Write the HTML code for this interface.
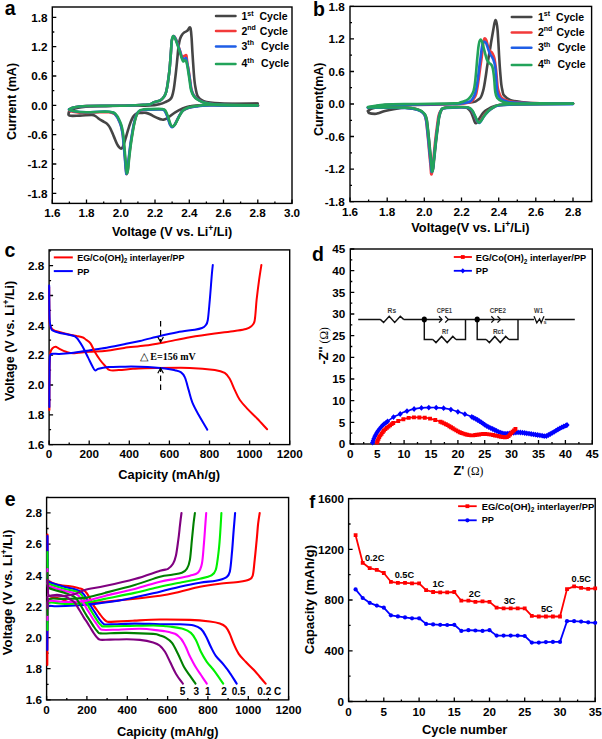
<!DOCTYPE html>
<html><head><meta charset="utf-8"><style>
html,body{margin:0;padding:0;background:#fff;}
svg{display:block;}
</style></head><body>
<svg width="602" height="739" viewBox="0 0 602 739" font-family="Liberation Sans, sans-serif" font-weight="bold" fill="#000">
<rect width="602" height="739" fill="#fff"/>
<rect x="52.3" y="7.0" width="239.7" height="196.4" fill="none" stroke="#000" stroke-width="1.4"/>
<path d="M52.3,203.4 v-4 M86.5,203.4 v-4 M120.8,203.4 v-4 M155.0,203.4 v-4 M189.3,203.4 v-4 M223.5,203.4 v-4 M257.8,203.4 v-4 M292.0,203.4 v-4 M69.4,203.4 v-2 M103.7,203.4 v-2 M137.9,203.4 v-2 M172.1,203.4 v-2 M206.4,203.4 v-2 M240.6,203.4 v-2 M274.9,203.4 v-2" stroke="#000" stroke-width="1.3" fill="none"/>
<path d="M52.3,193.3 h4 M52.3,164.0 h4 M52.3,134.6 h4 M52.3,105.3 h4 M52.3,76.0 h4 M52.3,46.6 h4 M52.3,17.3 h4 M52.3,178.6 h2 M52.3,149.3 h2 M52.3,120.0 h2 M52.3,90.6 h2 M52.3,61.3 h2 M52.3,32.0 h2" stroke="#000" stroke-width="1.3" fill="none"/>
<text x="52.3" y="217.3" font-size="11.7" text-anchor="middle">1.6</text>
<text x="86.5" y="217.3" font-size="11.7" text-anchor="middle">1.8</text>
<text x="120.8" y="217.3" font-size="11.7" text-anchor="middle">2.0</text>
<text x="155.0" y="217.3" font-size="11.7" text-anchor="middle">2.2</text>
<text x="189.3" y="217.3" font-size="11.7" text-anchor="middle">2.4</text>
<text x="223.5" y="217.3" font-size="11.7" text-anchor="middle">2.6</text>
<text x="257.7" y="217.3" font-size="11.7" text-anchor="middle">2.8</text>
<text x="292.0" y="217.3" font-size="11.7" text-anchor="middle">3.0</text>
<text x="47.6" y="197.5" font-size="11.7" text-anchor="end">-1.8</text>
<text x="47.6" y="168.2" font-size="11.7" text-anchor="end">-1.2</text>
<text x="47.6" y="138.8" font-size="11.7" text-anchor="end">-0.6</text>
<text x="47.6" y="109.5" font-size="11.7" text-anchor="end">0.0</text>
<text x="47.6" y="80.2" font-size="11.7" text-anchor="end">0.6</text>
<text x="47.6" y="50.8" font-size="11.7" text-anchor="end">1.2</text>
<text x="47.6" y="21.5" font-size="11.7" text-anchor="end">1.8</text>
<text x="10.3" y="15.2" font-size="19.5" text-anchor="middle">a</text>
<text x="172.1" y="236.3" font-size="12.6" text-anchor="middle">Voltage (V vs. Li<tspan font-size="8.5" dy="-5.3">+</tspan><tspan dy="5.3">/Li)</tspan></text>
<text x="15.8" y="101.5" font-size="12.5" text-anchor="middle" transform="rotate(-90 15.8 101.5)">Current (mA)</text>
<g>
<path d="M69.0,112.0 C70.0,111.4 71.5,109.4 75.0,108.5 C78.5,107.6 80.8,107.0 90.0,106.5 C99.2,106.0 120.0,105.8 130.0,105.6 C140.0,105.4 145.0,105.8 150.0,105.5 C155.0,105.2 157.3,104.6 160.0,104.0 C162.7,103.4 164.3,102.5 166.0,101.7 C167.7,101.0 169.0,100.4 170.0,99.5 C171.0,98.6 171.4,98.2 172.0,96.5 C172.6,94.8 173.2,92.4 173.8,89.0 C174.4,85.6 174.9,80.8 175.5,76.0 C176.1,71.2 176.7,65.0 177.2,60.0 C177.7,55.0 178.1,49.5 178.6,46.0 C179.1,42.5 179.4,40.9 180.0,39.0 C180.6,37.1 181.4,35.6 182.2,34.5 C182.9,33.4 183.7,32.9 184.5,32.3 C185.3,31.7 186.2,31.5 186.9,31.0 C187.6,30.5 188.0,29.8 188.4,29.2 C188.8,28.6 189.1,27.7 189.5,27.6 C189.9,27.5 190.2,26.8 190.6,28.5 C190.9,30.2 191.3,33.6 191.6,38.0 C191.9,42.4 192.2,49.2 192.6,55.0 C193.0,60.8 193.4,67.8 193.8,73.0 C194.2,78.2 194.5,82.1 195.2,86.0 C195.9,89.9 196.4,93.8 197.8,96.3 C199.2,98.8 200.1,100.1 203.8,101.3 C207.5,102.5 210.8,102.9 219.8,103.3 C228.8,103.7 251.3,103.8 257.6,103.9" fill="none" stroke="#454545" stroke-width="2.6" stroke-linejoin="round" stroke-linecap="round"/>
<path d="M69.0,112.0 C69.0,112.6 67.5,115.0 69.3,115.6 C71.1,116.2 76.1,115.7 79.9,115.6 C83.7,115.5 89.2,114.8 91.9,114.9 C94.6,115.1 94.7,115.7 96.0,116.5 C97.3,117.3 98.6,118.6 99.9,119.5 C101.2,120.4 102.8,121.1 104.0,121.8 C105.2,122.5 105.9,122.6 106.9,123.7 C108.0,124.8 109.2,126.2 110.3,128.3 C111.4,130.4 112.6,133.7 113.8,136.4 C115.0,139.1 116.2,142.5 117.2,144.4 C118.2,146.3 118.8,146.9 119.5,147.6 C120.2,148.3 120.6,148.6 121.1,148.6 C121.6,148.6 122.0,148.3 122.5,147.5 C123.0,146.7 123.4,145.2 124.0,143.5 C124.6,141.8 125.3,139.3 126.0,137.0 C126.7,134.7 127.4,131.9 128.2,129.5 C128.9,127.1 129.7,124.6 130.5,122.5 C131.3,120.4 132.2,118.4 133.0,117.0 C133.8,115.6 134.6,115.0 135.5,114.3 C136.4,113.6 137.6,113.3 138.5,113.1 C139.4,112.9 139.8,112.9 141.0,112.9 C142.2,112.9 144.5,112.7 146.0,112.9 C147.5,113.1 148.7,113.6 150.0,114.2 C151.3,114.8 152.6,115.6 153.9,116.3 C155.2,117.0 156.7,117.7 158.0,118.2 C159.3,118.8 160.9,119.4 161.9,119.6 C162.9,119.8 163.3,119.7 164.0,119.6 C164.7,119.5 164.9,119.5 165.9,118.9 C166.9,118.4 168.4,117.4 169.9,116.3 C171.4,115.2 173.0,113.6 175.2,112.3 C177.4,111.0 180.8,109.3 183.2,108.3 C185.6,107.3 186.5,106.8 189.8,106.3 C193.1,105.8 191.8,105.5 203.1,105.0 C214.4,104.5 248.5,103.8 257.6,103.5" fill="none" stroke="#454545" stroke-width="2.6" stroke-linejoin="round" stroke-linecap="round"/>
<path d="M69.4,109.4 C70.1,109.1 70.4,108.0 73.3,107.4 C76.2,106.8 79.9,106.3 86.6,106.0 C93.2,105.7 106.0,105.9 113.2,105.8 C120.4,105.7 125.0,105.7 130.0,105.5 C135.0,105.3 140.0,105.0 143.3,104.8 C146.6,104.6 148.2,104.6 150.0,104.2 C151.8,103.8 152.2,102.9 153.9,102.3 C155.6,101.7 158.5,101.2 160.0,100.5 C161.5,99.8 162.1,99.1 163.0,98.0 C163.9,96.9 164.8,95.7 165.5,94.0 C166.2,92.3 166.5,90.7 167.0,88.0 C167.5,85.3 168.1,81.3 168.5,78.0 C168.9,74.7 169.4,71.3 169.7,68.0 C170.0,64.7 170.2,61.3 170.5,58.0 C170.8,54.7 171.0,50.9 171.2,48.0 C171.4,45.1 171.4,42.4 171.8,40.5 C172.2,38.6 172.9,37.1 173.4,36.5 C173.9,35.9 174.2,36.2 174.6,36.7 C175.0,37.2 175.5,38.1 176.1,39.5 C176.7,40.9 177.4,43.1 178.1,45.0 C178.8,46.9 179.4,48.9 180.1,51.0 C180.8,53.1 181.5,56.6 182.1,57.5 C182.7,58.4 183.2,56.6 183.7,56.3 C184.2,56.0 184.6,55.7 185.1,55.6 C185.6,55.5 186.0,54.2 186.4,55.5 C186.8,56.8 187.0,61.1 187.4,63.5 C187.8,65.9 188.2,67.2 188.6,70.0 C189.0,72.8 189.6,76.7 190.1,80.0 C190.6,83.3 190.9,87.2 191.6,89.8 C192.3,92.4 193.1,94.2 194.1,95.8 C195.1,97.4 196.0,98.2 197.6,99.3 C199.2,100.4 201.4,101.5 203.6,102.3 C205.8,103.0 207.8,103.4 210.6,103.8 C213.4,104.2 212.7,104.6 220.6,104.9 C228.5,105.2 251.9,105.4 258.2,105.5" fill="none" stroke="#f23a3a" stroke-width="2.6" stroke-linejoin="round" stroke-linecap="round"/>
<path d="M69.1,110.0 C69.8,110.3 70.1,111.1 73.0,111.6 C75.9,112.1 81.9,112.8 86.3,112.9 C90.7,113.0 95.8,112.4 99.6,112.3 C103.4,112.2 106.8,112.2 108.9,112.3 C111.0,112.4 111.2,112.6 112.2,112.9 C113.2,113.2 113.9,113.5 114.6,114.0 C115.3,114.5 115.9,115.3 116.5,116.1 C117.1,116.9 117.4,117.0 118.1,118.6 C118.9,120.2 120.2,123.0 121.0,125.5 C121.8,128.0 122.2,130.4 122.7,133.5 C123.2,136.6 123.4,139.9 123.8,143.9 C124.2,147.9 124.7,153.5 125.0,157.7 C125.3,161.9 125.7,166.5 125.9,169.2 C126.2,171.9 126.3,173.3 126.5,173.9 C126.7,174.5 127.0,173.4 127.2,172.6 C127.4,171.8 127.6,171.7 127.9,169.2 C128.2,166.7 128.5,161.9 129.0,157.7 C129.5,153.5 130.1,148.1 130.7,143.9 C131.3,139.7 131.9,135.9 132.5,132.4 C133.1,128.9 133.5,126.1 134.2,123.2 C134.9,120.3 135.6,117.1 136.5,115.1 C137.4,113.1 138.2,111.9 139.4,111.1 C140.5,110.2 141.7,110.3 143.4,110.0 C145.1,109.7 146.7,109.5 149.7,109.4 C152.7,109.3 159.1,109.1 161.6,109.3 C164.1,109.5 163.9,109.4 164.9,110.6 C165.9,111.8 166.7,114.3 167.6,116.6 C168.5,118.9 169.4,122.8 170.2,124.5 C171.0,126.2 171.4,126.9 172.2,126.9 C173.0,126.9 173.8,126.2 174.9,124.5 C176.0,122.8 177.6,118.9 178.9,116.6 C180.2,114.3 181.3,112.0 182.9,110.6 C184.4,109.1 186.0,108.6 188.2,107.9 C190.4,107.2 192.6,106.8 196.1,106.3 C199.6,105.8 199.2,105.3 209.4,105.2 C219.6,105.1 249.3,105.5 257.3,105.6" fill="none" stroke="#f23a3a" stroke-width="2.6" stroke-linejoin="round" stroke-linecap="round"/>
<path d="M69.4,109.4 C70.1,109.1 70.4,108.0 73.3,107.4 C76.2,106.8 79.9,106.3 86.6,106.0 C93.2,105.7 106.0,105.9 113.2,105.8 C120.4,105.7 125.0,105.7 130.0,105.5 C135.0,105.3 140.0,105.0 143.3,104.8 C146.6,104.6 148.2,104.6 150.0,104.2 C151.8,103.8 152.2,102.9 153.9,102.3 C155.6,101.7 158.5,101.2 160.0,100.5 C161.5,99.8 162.1,99.1 163.0,98.0 C163.9,96.9 164.8,95.7 165.5,94.0 C166.2,92.3 166.5,90.7 167.0,88.0 C167.5,85.3 168.1,81.3 168.5,78.0 C168.9,74.7 169.4,71.3 169.7,68.0 C170.0,64.7 170.2,61.3 170.5,58.0 C170.8,54.7 171.0,50.9 171.2,48.0 C171.4,45.1 171.5,42.4 171.8,40.5 C172.1,38.6 172.8,37.1 173.2,36.5 C173.6,35.9 174.0,36.2 174.4,36.7 C174.8,37.2 175.3,38.1 175.9,39.5 C176.5,40.9 177.2,43.1 177.9,45.0 C178.6,46.9 179.2,48.9 179.9,51.0 C180.6,53.1 181.3,56.1 181.9,57.5 C182.5,58.9 183.0,59.1 183.5,59.3 C184.0,59.5 184.4,58.7 184.9,58.6 C185.4,58.5 185.8,57.7 186.2,58.5 C186.6,59.3 186.8,61.6 187.2,63.5 C187.6,65.4 188.0,67.2 188.4,70.0 C188.8,72.8 189.4,76.7 189.9,80.0 C190.4,83.3 190.7,87.2 191.4,89.8 C192.1,92.4 192.9,94.2 193.9,95.8 C194.9,97.4 195.8,98.2 197.4,99.3 C199.0,100.4 201.2,101.5 203.4,102.3 C205.6,103.0 207.6,103.4 210.4,103.8 C213.2,104.2 212.5,104.6 220.4,104.9 C228.3,105.2 251.7,105.4 258.0,105.5" fill="none" stroke="#1f5ee6" stroke-width="2.6" stroke-linejoin="round" stroke-linecap="round"/>
<path d="M68.9,109.4 C69.6,109.7 69.9,110.5 72.8,111.0 C75.7,111.5 81.7,112.2 86.1,112.3 C90.5,112.4 95.6,111.8 99.4,111.7 C103.2,111.6 106.6,111.6 108.7,111.7 C110.8,111.8 111.0,112.0 112.0,112.3 C113.0,112.6 113.7,112.8 114.4,113.4 C115.1,114.0 115.7,115.2 116.3,116.0 C116.9,116.8 117.2,116.9 117.9,118.5 C118.7,120.1 120.0,122.9 120.8,125.4 C121.6,127.9 122.0,130.3 122.5,133.4 C123.0,136.5 123.2,139.8 123.6,143.8 C124.0,147.8 124.4,153.4 124.8,157.6 C125.2,161.8 125.5,166.4 125.7,169.1 C126.0,171.8 126.1,173.2 126.3,173.8 C126.5,174.4 126.8,173.3 127.0,172.5 C127.2,171.7 127.4,171.6 127.7,169.1 C128.0,166.6 128.3,161.8 128.8,157.6 C129.3,153.4 129.9,148.0 130.5,143.8 C131.1,139.6 131.7,135.8 132.3,132.3 C132.9,128.9 133.3,126.0 134.0,123.1 C134.7,120.2 135.4,117.0 136.3,115.0 C137.2,113.0 138.0,111.8 139.2,111.0 C140.3,110.2 141.5,110.1 143.2,109.9 C144.9,109.7 146.5,109.7 149.5,109.6 C152.5,109.5 158.9,109.3 161.4,109.5 C163.9,109.7 163.7,109.6 164.7,110.8 C165.7,112.0 166.5,114.5 167.4,116.8 C168.3,119.1 169.2,123.0 170.0,124.7 C170.8,126.4 171.2,127.1 172.0,127.1 C172.8,127.1 173.6,126.4 174.7,124.7 C175.8,123.0 177.4,119.1 178.7,116.8 C180.0,114.5 181.1,112.2 182.7,110.8 C184.2,109.3 185.8,108.8 188.0,108.1 C190.2,107.4 192.4,107.0 195.9,106.5 C199.4,106.0 199.0,105.5 209.2,105.4 C219.4,105.3 249.1,105.7 257.1,105.8" fill="none" stroke="#1f5ee6" stroke-width="2.6" stroke-linejoin="round" stroke-linecap="round"/>
<path d="M69.4,109.4 C70.1,109.1 70.4,108.0 73.3,107.4 C76.2,106.8 79.9,106.3 86.6,106.0 C93.2,105.7 106.0,105.9 113.2,105.8 C120.4,105.7 125.0,105.7 130.0,105.5 C135.0,105.3 140.0,105.0 143.3,104.8 C146.6,104.6 148.2,104.6 150.0,104.2 C151.8,103.8 152.2,102.9 153.9,102.3 C155.6,101.7 158.5,101.2 160.0,100.5 C161.5,99.8 162.1,99.1 163.0,98.0 C163.9,96.9 164.8,95.7 165.5,94.0 C166.2,92.3 166.5,90.7 167.0,88.0 C167.5,85.3 168.1,81.3 168.5,78.0 C168.9,74.7 169.4,71.3 169.7,68.0 C170.0,64.7 170.2,61.3 170.5,58.0 C170.8,54.7 171.0,50.9 171.2,48.0 C171.4,45.1 171.5,42.4 171.8,40.5 C172.1,38.6 172.4,37.1 172.8,36.5 C173.2,35.9 173.6,36.2 174.0,36.7 C174.4,37.2 174.9,38.1 175.5,39.5 C176.1,40.9 176.8,43.1 177.5,45.0 C178.2,46.9 178.8,48.9 179.5,51.0 C180.2,53.1 180.9,55.8 181.5,57.5 C182.1,59.2 182.6,60.8 183.1,61.3 C183.6,61.8 184.1,60.7 184.5,60.6 C184.9,60.5 185.4,60.0 185.8,60.5 C186.2,61.0 186.4,61.9 186.8,63.5 C187.2,65.1 187.6,67.2 188.0,70.0 C188.4,72.8 189.0,76.7 189.5,80.0 C190.0,83.3 190.3,87.2 191.0,89.8 C191.7,92.4 192.5,94.2 193.5,95.8 C194.5,97.4 195.4,98.2 197.0,99.3 C198.6,100.4 200.8,101.5 203.0,102.3 C205.2,103.0 207.2,103.4 210.0,103.8 C212.8,104.2 212.1,104.6 220.0,104.9 C227.9,105.2 251.3,105.4 257.6,105.5" fill="none" stroke="#22a35a" stroke-width="2.6" stroke-linejoin="round" stroke-linecap="round"/>
<path d="M69.4,109.4 C70.1,109.7 70.4,110.5 73.3,111.0 C76.2,111.5 82.2,112.2 86.6,112.3 C91.0,112.4 96.1,111.8 99.9,111.7 C103.7,111.6 107.1,111.6 109.2,111.7 C111.3,111.8 111.5,112.0 112.5,112.3 C113.5,112.6 114.2,112.9 114.9,113.4 C115.6,113.9 116.2,114.7 116.8,115.5 C117.4,116.3 117.7,116.4 118.4,118.0 C119.2,119.6 120.5,122.4 121.3,124.9 C122.1,127.4 122.5,129.8 123.0,132.9 C123.5,136.0 123.7,139.3 124.1,143.3 C124.5,147.3 124.9,152.9 125.3,157.1 C125.7,161.3 126.0,165.9 126.2,168.6 C126.5,171.3 126.6,172.7 126.8,173.3 C127.0,173.9 127.3,172.8 127.5,172.0 C127.7,171.2 127.9,171.1 128.2,168.6 C128.5,166.1 128.8,161.3 129.3,157.1 C129.8,152.9 130.4,147.5 131.0,143.3 C131.6,139.1 132.2,135.2 132.8,131.8 C133.4,128.4 133.8,125.5 134.5,122.6 C135.2,119.7 135.9,116.5 136.8,114.5 C137.7,112.5 138.5,111.3 139.7,110.5 C140.8,109.7 142.0,109.6 143.7,109.4 C145.4,109.2 147.0,109.2 150.0,109.1 C153.0,109.0 159.4,108.8 161.9,109.0 C164.4,109.2 164.2,109.1 165.2,110.3 C166.2,111.5 167.0,114.0 167.9,116.3 C168.8,118.6 169.7,122.5 170.5,124.2 C171.3,125.9 171.7,126.6 172.5,126.6 C173.3,126.6 174.1,125.9 175.2,124.2 C176.3,122.5 177.9,118.6 179.2,116.3 C180.5,114.0 181.6,111.8 183.2,110.3 C184.8,108.8 186.3,108.3 188.5,107.6 C190.7,106.9 192.9,106.5 196.4,106.0 C199.9,105.5 199.5,105.0 209.7,104.9 C219.9,104.8 249.6,105.2 257.6,105.3" fill="none" stroke="#22a35a" stroke-width="2.6" stroke-linejoin="round" stroke-linecap="round"/>
</g>
<line x1="216" y1="16.1" x2="235.5" y2="16.1" stroke="#454545" stroke-width="2.5" stroke-linecap="round"/>
<text x="241.5" y="20" font-size="10.5">1<tspan font-size="7" dy="-4.5">st</tspan></text>
<text x="259.5" y="20" font-size="10.5">Cycle</text>
<line x1="216" y1="31.1" x2="235.5" y2="31.1" stroke="#f23a3a" stroke-width="2.5" stroke-linecap="round"/>
<text x="241.5" y="34.9" font-size="10.5">2<tspan font-size="7" dy="-4.5">nd</tspan></text>
<text x="259.8" y="34.9" font-size="10.5">Cycle</text>
<line x1="216" y1="46.5" x2="235.5" y2="46.5" stroke="#1f5ee6" stroke-width="2.5" stroke-linecap="round"/>
<text x="241.5" y="49.8" font-size="10.5">3<tspan font-size="7" dy="-4.5">th</tspan></text>
<text x="261.1" y="49.8" font-size="10.5">Cycle</text>
<line x1="216" y1="64" x2="235.5" y2="64" stroke="#22a35a" stroke-width="2.5" stroke-linecap="round"/>
<text x="241.5" y="67.3" font-size="10.5">4<tspan font-size="7" dy="-4.5">th</tspan></text>
<text x="261.1" y="67.3" font-size="10.5">Cycle</text>
<rect x="350.0" y="6.4" width="241.60000000000002" height="195.2" fill="none" stroke="#000" stroke-width="1.4"/>
<path d="M350.0,201.6 v-4 M387.2,201.6 v-4 M424.3,201.6 v-4 M461.5,201.6 v-4 M498.7,201.6 v-4 M535.8,201.6 v-4 M573.0,201.6 v-4 M368.6,201.6 v-2 M405.8,201.6 v-2 M442.9,201.6 v-2 M480.1,201.6 v-2 M517.3,201.6 v-2 M554.4,201.6 v-2 M591.6,201.6 v-2" stroke="#000" stroke-width="1.3" fill="none"/>
<path d="M350.0,201.6 h4 M350.0,169.1 h4 M350.0,136.5 h4 M350.0,104.0 h4 M350.0,71.5 h4 M350.0,38.9 h4 M350.0,6.4 h4 M350.0,185.3 h2 M350.0,152.8 h2 M350.0,120.3 h2 M350.0,87.7 h2 M350.0,55.2 h2 M350.0,22.7 h2" stroke="#000" stroke-width="1.3" fill="none"/>
<text x="350.0" y="215.5" font-size="11.7" text-anchor="middle">1.6</text>
<text x="387.2" y="215.5" font-size="11.7" text-anchor="middle">1.8</text>
<text x="424.4" y="215.5" font-size="11.7" text-anchor="middle">2.0</text>
<text x="461.6" y="215.5" font-size="11.7" text-anchor="middle">2.2</text>
<text x="498.8" y="215.5" font-size="11.7" text-anchor="middle">2.4</text>
<text x="536.0" y="215.5" font-size="11.7" text-anchor="middle">2.6</text>
<text x="573.2" y="215.5" font-size="11.7" text-anchor="middle">2.8</text>
<text x="344.8" y="205.8" font-size="11.7" text-anchor="end">-1.8</text>
<text x="344.8" y="173.3" font-size="11.7" text-anchor="end">-1.2</text>
<text x="344.8" y="140.7" font-size="11.7" text-anchor="end">-0.6</text>
<text x="344.8" y="108.2" font-size="11.7" text-anchor="end">0.0</text>
<text x="344.8" y="75.7" font-size="11.7" text-anchor="end">0.6</text>
<text x="344.8" y="43.1" font-size="11.7" text-anchor="end">1.2</text>
<text x="344.8" y="10.6" font-size="11.7" text-anchor="end">1.8</text>
<text x="319" y="15.5" font-size="19.5" text-anchor="middle">b</text>
<text x="470.4" y="232.4" font-size="12.75" text-anchor="middle">Voltage(V vs. Li<tspan font-size="8.6" dy="-5.4">+</tspan><tspan dy="5.4">/Li)</tspan></text>
<text x="323" y="99.3" font-size="12.5" text-anchor="middle" transform="rotate(-90 323 99.3)">Current(mA)</text>
<g>
<path d="M368.0,111.0 C368.7,110.6 369.2,109.3 372.0,108.5 C374.8,107.7 377.8,106.6 385.0,106.0 C392.2,105.4 403.3,105.3 415.0,105.0 C426.7,104.7 447.5,104.3 455.0,104.0 C462.5,103.7 456.9,103.7 460.0,103.4 C463.1,103.1 470.7,102.5 473.5,102.0 C476.3,101.5 475.9,101.2 477.0,100.5 C478.1,99.8 479.5,99.0 480.3,98.0 C481.1,97.0 481.4,96.1 482.0,94.5 C482.6,92.9 483.1,91.2 483.7,88.5 C484.3,85.8 484.9,81.6 485.5,78.0 C486.1,74.4 486.6,70.1 487.1,66.8 C487.6,63.5 488.1,60.7 488.5,58.0 C488.9,55.3 489.3,53.6 489.8,50.6 C490.3,47.6 490.9,43.4 491.5,40.0 C492.1,36.6 492.7,33.0 493.2,30.3 C493.7,27.6 494.0,25.2 494.4,23.5 C494.8,21.8 495.1,20.2 495.5,20.1 C495.9,20.0 496.2,21.3 496.6,23.0 C497.0,24.7 497.3,27.0 497.6,30.3 C497.9,33.6 498.1,38.5 498.4,43.0 C498.7,47.5 498.9,52.6 499.2,57.4 C499.5,62.2 499.8,67.5 500.2,72.0 C500.6,76.5 500.9,81.2 501.3,84.4 C501.7,87.6 502.1,89.2 502.5,91.0 C502.9,92.8 502.7,93.8 504.0,95.3 C505.3,96.8 507.3,98.9 510.1,100.0 C512.9,101.1 515.9,101.4 520.9,102.0 C525.9,102.6 531.3,103.2 540.0,103.4 C548.7,103.6 567.5,103.4 573.0,103.4" fill="none" stroke="#454545" stroke-width="2.6" stroke-linejoin="round" stroke-linecap="round"/>
<path d="M368.0,111.0 C368.2,111.3 367.9,112.5 369.0,113.0 C370.1,113.5 373.2,113.9 374.9,113.9 C376.6,113.9 377.3,113.5 379.0,113.0 C380.7,112.5 382.2,111.7 384.9,111.0 C387.5,110.3 391.5,109.5 394.9,109.0 C398.2,108.5 402.3,107.9 405.0,107.8 C407.7,107.7 409.0,108.1 411.0,108.4 C413.0,108.7 415.2,108.9 417.0,109.4 C418.8,109.9 420.2,110.4 421.5,111.3 C422.8,112.2 424.1,113.2 425.0,114.7 C425.9,116.2 426.4,117.8 426.9,120.3 C427.4,122.8 427.6,126.0 428.0,129.5 C428.4,132.9 428.8,137.2 429.2,141.0 C429.6,144.8 429.9,148.7 430.3,152.5 C430.7,156.3 431.2,161.1 431.5,164.0 C431.8,166.9 431.8,168.9 432.0,170.0 C432.2,171.1 432.4,170.7 432.6,170.5 C432.8,170.3 432.9,170.7 433.2,168.6 C433.5,166.5 433.8,162.8 434.3,158.2 C434.8,153.6 435.5,146.2 436.1,141.0 C436.7,135.8 437.2,131.4 437.8,127.2 C438.4,123.0 438.8,118.6 439.5,115.7 C440.2,112.8 440.9,110.9 441.8,109.6 C442.7,108.3 443.2,108.5 444.7,108.1 C446.2,107.7 447.8,107.5 450.7,107.4 C453.6,107.3 459.4,107.2 462.0,107.3 C464.6,107.4 465.4,107.4 466.6,107.8 C467.8,108.2 468.2,108.7 469.0,109.5 C469.8,110.3 470.6,111.4 471.4,112.9 C472.1,114.4 472.9,116.8 473.5,118.5 C474.1,120.2 474.6,122.1 475.2,122.8 C475.8,123.5 476.2,123.0 476.8,122.5 C477.4,122.0 477.6,121.3 478.5,120.0 C479.4,118.7 480.9,115.8 481.9,114.4 C482.9,113.0 483.5,112.4 484.5,111.5 C485.5,110.6 486.6,110.0 487.9,109.2 C489.1,108.5 490.5,107.6 492.0,107.0 C493.5,106.4 494.3,105.9 496.9,105.5 C499.4,105.1 503.4,104.9 507.3,104.7 C511.2,104.5 509.1,104.4 520.0,104.2 C531.0,104.0 564.2,103.9 573.0,103.8" fill="none" stroke="#454545" stroke-width="2.6" stroke-linejoin="round" stroke-linecap="round"/>
<path d="M368.0,107.5 C370.8,107.1 377.2,105.5 385.0,105.0 C392.8,104.5 403.3,104.7 415.0,104.5 C426.7,104.3 447.2,104.2 455.0,104.0 C462.8,103.8 459.4,103.8 462.0,103.5 C464.6,103.2 468.8,102.8 470.8,102.0 C472.8,101.2 473.1,99.8 474.0,98.5 C474.9,97.2 475.6,96.0 476.2,93.9 C476.8,91.8 477.2,88.7 477.7,86.0 C478.1,83.3 478.5,80.9 478.9,77.7 C479.3,74.5 479.8,70.4 480.3,67.0 C480.8,63.6 481.3,60.7 481.7,57.4 C482.1,54.1 482.5,49.7 482.8,47.0 C483.1,44.3 483.4,42.5 483.7,41.1 C484.0,39.7 484.3,38.8 484.6,38.4 C484.9,38.0 485.2,38.5 485.5,38.8 C485.8,39.1 485.9,38.9 486.4,40.4 C486.9,41.9 487.8,46.1 488.4,47.9 C489.0,49.7 489.4,50.3 490.0,51.0 C490.6,51.7 491.2,51.6 491.8,52.3 C492.4,53.0 492.9,53.9 493.3,55.0 C493.8,56.1 494.1,56.5 494.5,58.7 C494.9,60.9 495.5,64.8 495.9,68.2 C496.3,71.6 496.6,75.6 496.9,79.0 C497.2,82.4 497.4,85.9 497.9,88.5 C498.4,91.1 499.1,92.9 499.8,94.5 C500.5,96.1 500.8,97.0 502.0,98.0 C503.2,99.0 505.0,99.8 507.0,100.5 C509.0,101.2 508.6,101.5 514.1,102.0 C519.6,102.5 530.2,103.2 540.0,103.4 C549.8,103.7 567.5,103.5 573.0,103.5" fill="none" stroke="#f23a3a" stroke-width="2.6" stroke-linejoin="round" stroke-linecap="round"/>
<path d="M368.0,107.5 C370.8,107.5 378.8,107.4 384.9,107.4 C391.0,107.4 400.3,107.5 404.8,107.6 C409.3,107.7 410.0,107.9 412.0,108.2 C414.0,108.5 415.5,108.7 417.0,109.2 C418.5,109.7 419.6,110.2 420.8,111.1 C422.0,112.0 423.4,113.0 424.3,114.5 C425.2,116.0 425.5,117.8 426.0,120.3 C426.5,122.8 426.7,125.9 427.1,129.5 C427.5,133.1 427.9,137.8 428.3,142.0 C428.7,146.1 429.0,150.2 429.4,154.3 C429.8,158.5 430.3,163.6 430.6,166.8 C430.9,170.0 430.9,172.5 431.1,173.7 C431.3,174.9 431.5,174.6 431.7,174.1 C431.9,173.6 432.0,173.3 432.3,170.8 C432.6,168.4 432.9,164.5 433.4,159.6 C433.9,154.6 434.6,146.4 435.2,141.0 C435.8,135.6 436.3,131.4 436.9,127.2 C437.5,123.0 437.8,118.7 438.6,115.7 C439.4,112.7 440.6,110.7 441.6,109.4 C442.6,108.1 442.1,108.3 444.5,107.9 C446.9,107.5 452.3,107.2 456.0,107.1 C459.7,107.0 464.5,107.0 466.6,107.2 C468.8,107.4 468.1,107.5 468.9,108.0 C469.7,108.5 470.6,109.1 471.4,110.0 C472.1,110.9 472.7,112.2 473.4,113.5 C474.1,114.8 474.8,116.7 475.4,118.0 C476.0,119.3 476.6,120.7 477.2,121.5 C477.8,122.3 478.3,122.7 478.8,122.6 C479.3,122.5 479.7,121.9 480.4,121.0 C481.1,120.1 482.0,118.3 482.9,117.0 C483.8,115.7 484.7,114.2 485.9,113.0 C487.1,111.8 488.6,110.6 490.0,109.6 C491.4,108.6 492.4,107.8 494.0,107.0 C495.6,106.2 496.3,105.3 499.8,104.8 C503.3,104.3 502.6,104.4 514.8,104.2 C527.0,104.0 563.3,103.9 573.0,103.8" fill="none" stroke="#f23a3a" stroke-width="2.6" stroke-linejoin="round" stroke-linecap="round"/>
<path d="M368.0,107.5 C370.8,107.1 377.2,105.5 385.0,105.0 C392.8,104.5 403.3,104.7 415.0,104.5 C426.7,104.3 447.2,104.2 455.0,104.0 C462.8,103.8 459.5,103.7 462.0,103.3 C464.5,102.9 468.2,102.4 470.0,101.5 C471.8,100.6 472.2,99.2 473.0,98.0 C473.8,96.8 474.4,95.8 475.0,94.0 C475.6,92.2 476.1,89.7 476.6,87.0 C477.1,84.3 477.6,81.3 478.0,78.0 C478.4,74.7 478.9,70.3 479.3,67.0 C479.7,63.7 480.1,60.8 480.5,58.0 C480.9,55.2 481.2,52.3 481.5,50.0 C481.8,47.7 482.2,45.3 482.5,44.0 C482.8,42.7 483.2,42.4 483.5,42.0 C483.8,41.6 484.1,41.7 484.4,41.8 C484.7,41.9 485.1,42.1 485.5,42.5 C485.9,42.9 486.0,42.8 486.5,44.0 C487.0,45.2 487.9,48.3 488.5,50.0 C489.1,51.7 489.4,52.9 490.0,54.0 C490.6,55.1 491.2,55.7 491.8,56.7 C492.4,57.7 492.9,58.3 493.5,60.0 C494.1,61.7 494.7,63.5 495.2,66.8 C495.7,70.1 496.0,75.9 496.3,80.0 C496.6,84.1 496.8,88.5 497.2,91.2 C497.6,94.0 498.4,95.2 499.0,96.5 C499.6,97.8 499.7,98.2 501.0,99.0 C502.3,99.8 504.8,100.9 507.0,101.5 C509.2,102.1 508.5,102.2 514.0,102.5 C519.5,102.8 530.2,103.2 540.0,103.4 C549.8,103.6 567.5,103.5 573.0,103.5" fill="none" stroke="#1f5ee6" stroke-width="2.6" stroke-linejoin="round" stroke-linecap="round"/>
<path d="M367.8,107.8 C370.6,107.8 378.6,107.7 384.7,107.7 C390.8,107.7 400.1,107.8 404.6,107.9 C409.1,108.0 409.8,108.2 411.8,108.5 C413.8,108.8 415.0,109.0 416.5,109.5 C418.0,110.0 419.7,110.5 421.0,111.4 C422.3,112.3 423.6,113.3 424.5,114.8 C425.4,116.3 425.7,118.1 426.2,120.6 C426.7,123.1 426.9,126.4 427.3,129.8 C427.7,133.2 428.1,137.5 428.5,141.3 C428.9,145.1 429.2,149.0 429.6,152.8 C430.0,156.6 430.5,161.3 430.8,164.3 C431.1,167.3 431.1,169.6 431.3,170.8 C431.5,172.0 431.9,172.0 432.2,171.7 C432.4,171.4 432.5,171.1 432.8,168.9 C433.1,166.7 433.4,163.1 433.9,158.5 C434.4,153.9 435.1,146.5 435.7,141.3 C436.3,136.1 436.8,131.7 437.4,127.5 C438.0,123.3 438.4,119.0 439.1,116.0 C439.8,113.0 440.5,111.0 441.4,109.7 C442.3,108.4 441.9,108.6 444.3,108.2 C446.7,107.8 452.1,107.5 455.8,107.4 C459.5,107.3 464.2,107.3 466.4,107.5 C468.7,107.7 468.4,107.8 469.3,108.3 C470.2,108.8 471.1,109.4 471.8,110.3 C472.6,111.2 473.1,112.5 473.8,113.8 C474.5,115.1 475.2,117.0 475.8,118.3 C476.4,119.6 477.0,121.0 477.6,121.8 C478.2,122.6 478.7,123.0 479.2,122.9 C479.7,122.8 480.1,122.2 480.8,121.3 C481.5,120.4 482.4,118.6 483.3,117.3 C484.2,116.0 485.2,114.5 486.3,113.3 C487.4,112.1 488.6,110.9 489.8,109.9 C491.1,108.9 492.2,108.1 493.8,107.3 C495.4,106.5 496.1,105.6 499.6,105.1 C503.1,104.6 502.4,104.7 514.6,104.5 C526.8,104.3 563.1,104.2 572.8,104.1" fill="none" stroke="#1f5ee6" stroke-width="2.6" stroke-linejoin="round" stroke-linecap="round"/>
<path d="M368.0,107.0 C370.8,106.6 377.1,105.1 384.9,104.6 C392.7,104.1 403.2,104.2 414.8,104.0 C426.4,103.8 447.2,103.7 454.7,103.4 C462.2,103.2 458.4,102.8 460.0,102.5 C461.6,102.2 462.6,101.8 464.0,101.3 C465.4,100.8 466.9,100.2 468.1,99.3 C469.3,98.4 470.1,97.3 471.0,96.0 C471.9,94.7 472.8,93.4 473.5,91.2 C474.2,89.0 474.6,86.4 475.0,83.0 C475.4,79.6 475.8,75.1 476.2,70.9 C476.6,66.7 476.9,61.8 477.3,58.0 C477.7,54.2 478.0,50.6 478.3,47.9 C478.6,45.2 479.0,43.4 479.3,42.0 C479.6,40.6 480.0,40.1 480.3,39.8 C480.6,39.5 481.0,39.8 481.3,40.3 C481.6,40.8 481.8,40.8 482.3,42.5 C482.8,44.2 483.6,47.7 484.4,50.6 C485.2,53.5 486.3,58.1 487.1,60.1 C487.9,62.1 488.3,61.9 489.1,62.8 C489.9,63.7 491.2,64.5 491.8,65.5 C492.4,66.5 492.6,67.4 492.9,69.0 C493.2,70.6 493.5,72.7 493.8,75.0 C494.1,77.3 494.3,80.3 494.5,83.0 C494.7,85.7 494.8,88.7 495.2,91.2 C495.6,93.7 495.8,96.2 497.2,98.0 C498.6,99.8 500.4,101.1 503.3,102.0 C506.2,102.9 508.7,103.4 514.8,103.6 C520.9,103.8 530.3,103.4 540.0,103.4 C549.7,103.4 567.5,103.5 573.0,103.5" fill="none" stroke="#22a35a" stroke-width="2.6" stroke-linejoin="round" stroke-linecap="round"/>
<path d="M368.0,107.5 C370.8,107.5 378.8,107.4 384.9,107.4 C391.0,107.4 400.3,107.5 404.8,107.6 C409.3,107.7 410.0,107.9 412.0,108.2 C414.0,108.5 415.4,108.7 417.0,109.2 C418.6,109.7 420.2,110.2 421.5,111.1 C422.8,112.0 424.1,113.0 425.0,114.5 C425.9,116.0 426.2,117.8 426.7,120.3 C427.2,122.8 427.4,126.0 427.8,129.5 C428.2,132.9 428.6,137.2 429.0,141.0 C429.4,144.8 429.7,148.7 430.1,152.5 C430.5,156.3 431.0,161.0 431.3,164.0 C431.6,167.0 431.6,169.3 431.8,170.5 C432.0,171.7 432.2,171.7 432.4,171.4 C432.6,171.1 432.7,170.8 433.0,168.6 C433.3,166.4 433.6,162.8 434.1,158.2 C434.6,153.6 435.3,146.2 435.9,141.0 C436.5,135.8 437.0,131.4 437.6,127.2 C438.2,123.0 438.6,118.7 439.3,115.7 C440.0,112.7 440.7,110.7 441.6,109.4 C442.5,108.1 442.1,108.3 444.5,107.9 C446.9,107.5 452.3,107.2 456.0,107.1 C459.7,107.0 464.4,107.0 466.6,107.2 C468.9,107.4 468.6,107.5 469.5,108.0 C470.4,108.5 471.2,109.1 472.0,110.0 C472.8,110.9 473.3,112.2 474.0,113.5 C474.7,114.8 475.4,116.7 476.0,118.0 C476.6,119.3 477.2,120.7 477.8,121.5 C478.4,122.3 478.9,122.7 479.4,122.6 C479.9,122.5 480.3,121.9 481.0,121.0 C481.7,120.1 482.6,118.3 483.5,117.0 C484.4,115.7 485.4,114.2 486.5,113.0 C487.6,111.8 488.8,110.6 490.0,109.6 C491.2,108.6 492.4,107.8 494.0,107.0 C495.6,106.2 496.3,105.3 499.8,104.8 C503.3,104.3 502.6,104.4 514.8,104.2 C527.0,104.0 563.3,103.9 573.0,103.8" fill="none" stroke="#22a35a" stroke-width="2.6" stroke-linejoin="round" stroke-linecap="round"/>
</g>
<line x1="511.8" y1="17.1" x2="531.4" y2="17.1" stroke="#454545" stroke-width="2.5" stroke-linecap="round"/>
<text x="537.9" y="20.8" font-size="10.5">1<tspan font-size="7" dy="-4.5">st</tspan></text>
<text x="556.1" y="20.8" font-size="10.5">Cycle</text>
<line x1="511.8" y1="32.4" x2="531.4" y2="32.4" stroke="#f23a3a" stroke-width="2.5" stroke-linecap="round"/>
<text x="537.9" y="35.7" font-size="10.5">2<tspan font-size="7" dy="-4.5">nd</tspan></text>
<text x="556.5" y="35.7" font-size="10.5">Cycle</text>
<line x1="511.8" y1="47.8" x2="531.4" y2="47.8" stroke="#1f5ee6" stroke-width="2.5" stroke-linecap="round"/>
<text x="537.9" y="51.2" font-size="10.5">3<tspan font-size="7" dy="-4.5">th</tspan></text>
<text x="557.5" y="51.2" font-size="10.5">Cycle</text>
<line x1="511.8" y1="65.1" x2="531.4" y2="65.1" stroke="#22a35a" stroke-width="2.5" stroke-linecap="round"/>
<text x="537.9" y="68.4" font-size="10.5">4<tspan font-size="7" dy="-4.5">th</tspan></text>
<text x="557.5" y="68.4" font-size="10.5">Cycle</text>
<rect x="49.1" y="249.9" width="240.6" height="194.70000000000002" fill="none" stroke="#000" stroke-width="1.4"/>
<path d="M49.1,444.6 v-4 M89.2,444.6 v-4 M129.3,444.6 v-4 M169.4,444.6 v-4 M209.5,444.6 v-4 M249.6,444.6 v-4 M289.7,444.6 v-4 M69.2,444.6 v-2 M109.2,444.6 v-2 M149.3,444.6 v-2 M189.4,444.6 v-2 M229.5,444.6 v-2 M269.6,444.6 v-2" stroke="#000" stroke-width="1.3" fill="none"/>
<path d="M49.1,444.6 h4 M49.1,414.8 h4 M49.1,385.0 h4 M49.1,355.1 h4 M49.1,325.3 h4 M49.1,295.5 h4 M49.1,265.7 h4 M49.1,429.7 h2 M49.1,399.9 h2 M49.1,370.1 h2 M49.1,340.2 h2 M49.1,310.4 h2 M49.1,280.6 h2 M49.1,250.8 h2" stroke="#000" stroke-width="1.3" fill="none"/>
<text x="49.1" y="458" font-size="11.7" text-anchor="middle">0</text>
<text x="89.2" y="458" font-size="11.7" text-anchor="middle">200</text>
<text x="129.3" y="458" font-size="11.7" text-anchor="middle">400</text>
<text x="169.4" y="458" font-size="11.7" text-anchor="middle">600</text>
<text x="209.5" y="458" font-size="11.7" text-anchor="middle">800</text>
<text x="249.6" y="458" font-size="11.7" text-anchor="middle">1000</text>
<text x="289.7" y="458" font-size="11.7" text-anchor="middle">1200</text>
<text x="44.2" y="448.8" font-size="11.7" text-anchor="end">1.6</text>
<text x="44.2" y="419.0" font-size="11.7" text-anchor="end">1.8</text>
<text x="44.2" y="389.2" font-size="11.7" text-anchor="end">2.0</text>
<text x="44.2" y="359.3" font-size="11.7" text-anchor="end">2.2</text>
<text x="44.2" y="329.5" font-size="11.7" text-anchor="end">2.4</text>
<text x="44.2" y="299.7" font-size="11.7" text-anchor="end">2.6</text>
<text x="44.2" y="269.9" font-size="11.7" text-anchor="end">2.8</text>
<text x="9.9" y="257.3" font-size="19.5" text-anchor="middle">c</text>
<text x="169.2" y="478.9" font-size="12.8" text-anchor="middle">Capicity (mAh/g)</text>
<text x="14" y="340.8" font-size="12.6" text-anchor="middle" transform="rotate(-90 14 340.8)">Voltage (V vs. Li<tspan font-size="8.5" dy="-5.3">+</tspan><tspan dy="5.3">/Li)</tspan></text>
<path d="M49.4,410.0 C49.4,405.0 49.4,388.3 49.5,380.0 C49.6,371.7 49.6,364.7 49.8,360.0 C50.0,355.3 50.0,353.9 50.5,352.0 C51.0,350.1 51.6,349.2 52.5,348.3 C53.4,347.4 54.5,346.6 55.6,346.7 C56.7,346.8 57.4,347.8 59.1,348.6 C60.9,349.5 63.7,351.0 66.1,351.8 C68.4,352.6 69.4,353.3 73.2,353.3 C77.0,353.3 83.4,352.2 89.0,351.8 C94.6,351.4 100.7,351.4 106.6,350.7 C112.5,350.0 117.8,348.8 124.2,347.9 C130.6,347.0 138.2,346.6 145.0,345.6 C151.8,344.7 157.4,343.6 164.9,342.2 C172.4,340.8 181.5,338.6 189.8,337.2 C198.1,335.8 207.3,334.5 214.8,333.5 C222.3,332.5 229.5,331.8 234.7,331.0 C239.9,330.2 243.3,329.8 246.0,329.0 C248.7,328.2 249.6,327.8 251.0,326.5 C252.4,325.2 253.7,325.4 254.6,321.0 C255.5,316.6 255.9,306.7 256.6,299.8 C257.4,292.9 258.3,285.7 259.1,279.9 C259.9,274.1 261.0,267.5 261.4,265.0" fill="none" stroke="#ff0000" stroke-width="2.0" stroke-linejoin="round" stroke-linecap="round"/>
<path d="M49.4,407.0 C49.4,402.5 49.4,388.2 49.5,380.0 C49.6,371.8 49.5,362.3 49.8,358.0 C50.0,353.7 50.3,354.9 51.0,354.2 C51.7,353.5 52.6,353.8 54.0,353.7 C55.4,353.6 56.2,354.0 59.1,353.9 C62.0,353.8 66.4,353.6 71.4,353.0 C76.4,352.4 83.1,351.3 89.0,350.4 C94.9,349.5 100.7,348.7 106.6,347.7 C112.5,346.7 118.6,345.3 124.2,344.2 C129.8,343.1 134.1,342.4 140.0,341.0 C145.9,339.6 153.7,337.5 159.9,336.0 C166.1,334.5 171.6,333.2 177.4,332.2 C183.2,331.1 190.7,330.4 194.8,329.7 C198.9,329.0 200.2,328.7 202.0,328.0 C203.8,327.3 204.5,326.8 205.5,325.5 C206.5,324.2 207.1,324.3 207.8,320.0 C208.5,315.7 209.1,307.3 209.8,299.8 C210.5,292.3 211.3,280.7 211.8,274.9 C212.3,269.1 212.6,266.6 212.8,265.0" fill="none" stroke="#0000ff" stroke-width="2.0" stroke-linejoin="round" stroke-linecap="round"/>
<path d="M49.2,287.0 C49.2,291.2 49.3,305.8 49.4,312.0 C49.5,318.2 49.4,321.2 49.8,324.0 C50.2,326.8 51.0,327.8 52.0,329.0 C53.0,330.2 53.0,330.1 55.6,331.0 C58.2,331.9 64.4,333.4 67.9,334.2 C71.4,335.0 74.2,335.3 76.7,335.9 C79.2,336.4 81.4,336.9 83.0,337.5 C84.6,338.1 84.8,338.8 86.1,339.8 C87.3,340.8 89.0,341.2 90.5,343.3 C92.0,345.4 93.3,349.3 94.9,352.1 C96.5,354.9 98.3,357.6 100.1,360.0 C101.8,362.4 103.8,364.5 105.4,366.2 C107.0,367.9 107.5,369.5 109.8,370.1 C112.0,370.8 115.0,370.3 118.9,370.1 C122.8,369.9 128.7,369.1 133.0,368.8 C137.3,368.5 135.5,368.5 145.0,368.3 C154.5,368.1 178.2,367.6 189.8,367.9 C201.4,368.2 209.0,369.1 214.8,369.9 C220.6,370.7 222.2,371.4 224.7,372.9 C227.2,374.4 228.0,375.9 229.7,378.7 C231.4,381.5 233.0,386.4 234.7,389.9 C236.4,393.4 237.6,396.7 239.7,399.8 C241.8,402.9 244.3,405.5 247.2,408.6 C250.1,411.7 253.8,415.1 257.1,418.5 C260.4,421.9 265.4,427.4 267.1,429.2" fill="none" stroke="#ff0000" stroke-width="2.0" stroke-linejoin="round" stroke-linecap="round"/>
<path d="M49.2,285.5 C49.2,289.6 49.3,303.9 49.4,310.0 C49.5,316.1 49.5,319.0 49.8,322.0 C50.1,325.0 50.5,326.6 51.0,328.0 C51.5,329.4 51.1,329.5 52.5,330.3 C53.9,331.1 56.5,332.0 59.1,332.7 C61.7,333.4 65.3,333.9 67.9,334.5 C70.5,335.1 73.2,335.4 74.9,336.3 C76.6,337.2 77.0,338.1 78.3,339.8 C79.6,341.6 81.1,343.9 82.7,346.8 C84.3,349.7 86.4,354.2 88.0,357.4 C89.6,360.6 91.2,364.0 92.4,366.2 C93.6,368.4 94.1,370.0 95.1,370.4 C96.1,370.8 96.4,369.4 98.6,368.8 C100.8,368.2 104.1,367.5 108.4,367.1 C112.7,366.8 118.9,366.8 124.2,366.7 C129.5,366.6 133.2,366.5 140.0,366.8 C146.8,367.1 159.1,367.8 164.9,368.4 C170.7,369.0 172.2,369.5 174.9,370.2 C177.6,370.9 179.4,371.2 181.1,372.4 C182.8,373.6 183.7,374.5 184.9,377.4 C186.2,380.3 187.4,385.8 188.6,389.9 C189.8,394.0 190.6,398.1 192.3,402.3 C194.0,406.5 196.1,410.2 198.6,414.8 C201.1,419.4 205.9,427.2 207.3,429.7" fill="none" stroke="#0000ff" stroke-width="2.0" stroke-linejoin="round" stroke-linecap="round"/>
<line x1="53.8" y1="257.4" x2="72.8" y2="257.4" stroke="#ff0000" stroke-width="2"/>
<line x1="53.8" y1="271.1" x2="72.8" y2="271.1" stroke="#0000ff" stroke-width="2"/>
<text x="77.2" y="260.9" font-size="8.95">EG/Co(OH)<tspan font-size="6.3" dy="2.5">2</tspan><tspan dy="-2.5"> interlayer/PP</tspan></text>
<text x="77.2" y="274.6" font-size="9.2">PP</text>
<g stroke="#000" stroke-width="1.2" fill="none">
<path d="M160.6,321 V341.5" stroke-dasharray="5.5,3.5"/>
<path d="M157.8,337 L160.6,342 L163.4,337"/>
<path d="M160.6,390 V369" stroke-dasharray="5.5,3.5"/>
<path d="M157.8,373.2 L160.6,368.2 L163.4,373.2"/>
</g>
<text x="140.3" y="360" font-size="10.5" font-weight="normal" font-family="Liberation Sans, sans-serif">△</text>
<text x="150.3" y="360" font-size="10" font-family="Liberation Serif, serif" font-weight="bold">E=156 mV</text>
<rect x="350.3" y="249.0" width="241.99999999999994" height="195.0" fill="none" stroke="#000" stroke-width="1.4"/>
<path d="M350.3,444.0 v-4 M377.2,444.0 v-4 M404.1,444.0 v-4 M431.0,444.0 v-4 M457.9,444.0 v-4 M484.7,444.0 v-4 M511.6,444.0 v-4 M538.5,444.0 v-4 M565.4,444.0 v-4 M592.3,444.0 v-4 M363.7,444.0 v-2 M390.6,444.0 v-2 M417.5,444.0 v-2 M444.4,444.0 v-2 M471.3,444.0 v-2 M498.2,444.0 v-2 M525.1,444.0 v-2 M552.0,444.0 v-2 M578.9,444.0 v-2" stroke="#000" stroke-width="1.3" fill="none"/>
<path d="M350.3,444.0 h4 M350.3,422.3 h4 M350.3,400.7 h4 M350.3,379.0 h4 M350.3,357.3 h4 M350.3,335.7 h4 M350.3,314.0 h4 M350.3,292.3 h4 M350.3,270.7 h4 M350.3,249.0 h4 M350.3,433.2 h2 M350.3,411.5 h2 M350.3,389.8 h2 M350.3,368.2 h2 M350.3,346.5 h2 M350.3,324.8 h2 M350.3,303.2 h2 M350.3,281.5 h2 M350.3,259.8 h2" stroke="#000" stroke-width="1.3" fill="none"/>
<text x="350.3" y="457.5" font-size="11.7" text-anchor="middle">0</text>
<text x="345.2" y="448.2" font-size="11.7" text-anchor="end">0</text>
<text x="377.2" y="457.5" font-size="11.7" text-anchor="middle">5</text>
<text x="345.2" y="426.5" font-size="11.7" text-anchor="end">5</text>
<text x="404.1" y="457.5" font-size="11.7" text-anchor="middle">10</text>
<text x="345.2" y="404.9" font-size="11.7" text-anchor="end">10</text>
<text x="431.0" y="457.5" font-size="11.7" text-anchor="middle">15</text>
<text x="345.2" y="383.2" font-size="11.7" text-anchor="end">15</text>
<text x="457.9" y="457.5" font-size="11.7" text-anchor="middle">20</text>
<text x="345.2" y="361.5" font-size="11.7" text-anchor="end">20</text>
<text x="484.7" y="457.5" font-size="11.7" text-anchor="middle">25</text>
<text x="345.2" y="339.9" font-size="11.7" text-anchor="end">25</text>
<text x="511.6" y="457.5" font-size="11.7" text-anchor="middle">30</text>
<text x="345.2" y="318.2" font-size="11.7" text-anchor="end">30</text>
<text x="538.5" y="457.5" font-size="11.7" text-anchor="middle">35</text>
<text x="345.2" y="296.5" font-size="11.7" text-anchor="end">35</text>
<text x="565.4" y="457.5" font-size="11.7" text-anchor="middle">40</text>
<text x="345.2" y="274.9" font-size="11.7" text-anchor="end">40</text>
<text x="592.3" y="457.5" font-size="11.7" text-anchor="middle">45</text>
<text x="345.2" y="253.2" font-size="11.7" text-anchor="end">45</text>
<text x="318" y="260.5" font-size="19.5" text-anchor="middle">d</text>
<text x="453.4" y="475" font-size="12.8">Z'<tspan font-family="Liberation Serif, serif" font-weight="normal" font-size="11.5"> (Ω)</tspan></text>
<text transform="translate(327.5,364.5) rotate(-90)" font-size="12.8">-Z''<tspan font-family="Liberation Serif, serif" font-weight="normal" font-size="11.5"> (Ω)</tspan></text>
<path d="M372.6,442.5 C372.9,441.7 373.7,439.1 374.3,437.6 C374.9,436.1 375.5,434.9 376.3,433.6 C377.1,432.3 378.0,430.9 379.0,429.6 C380.0,428.3 381.1,426.8 382.3,425.6 C383.5,424.4 385.0,423.4 386.3,422.3 C387.6,421.2 388.8,420.3 390.2,419.3 C391.6,418.3 393.2,417.2 394.9,416.3 C396.6,415.4 398.8,414.7 400.2,414.0 C401.6,413.3 402.4,412.8 403.5,412.3 C404.6,411.8 405.0,411.7 406.6,411.2 C408.2,410.7 410.9,409.7 413.3,409.1 C415.7,408.6 418.3,408.1 420.8,407.9 C423.3,407.6 425.7,407.7 428.2,407.6 C430.7,407.6 433.2,407.5 435.7,407.6 C438.2,407.7 440.6,407.8 443.0,408.1 C445.4,408.4 447.7,408.8 450.0,409.3 C452.3,409.8 454.5,410.6 456.6,411.3 C458.7,412.0 460.7,412.6 462.6,413.3 C464.5,414.0 466.2,414.6 467.9,415.3 C469.6,416.0 470.6,416.3 472.6,417.3 C474.6,418.3 477.6,419.9 479.9,421.3 C482.2,422.7 484.3,424.6 486.5,425.9 C488.7,427.2 491.0,428.1 493.2,429.2 C495.4,430.3 497.8,431.6 499.8,432.3 C501.8,433.0 503.3,433.5 505.0,433.6 C506.7,433.8 508.3,433.4 510.0,433.2 C511.7,433.0 513.3,432.7 515.0,432.6 C516.7,432.5 518.0,432.3 520.0,432.4 C522.0,432.5 524.7,433.0 527.0,433.3 C529.3,433.6 531.8,434.1 534.0,434.4 C536.2,434.7 538.2,435.0 540.0,435.3 C541.8,435.6 543.7,436.1 545.0,436.1 C546.3,436.1 546.3,436.0 548.0,435.2 C549.7,434.4 552.8,432.4 555.0,431.2 C557.2,429.9 559.0,428.7 561.0,427.7 C563.0,426.7 566.0,425.4 567.0,425.0" fill="none" stroke="#0000ff" stroke-width="1.6" stroke-linejoin="round" stroke-linecap="round"/>
<path d="M372.6,439.6l2.6,2.9l-2.6,2.9l-2.6,-2.9zM373.3,437.6l2.6,2.9l-2.6,2.9l-2.6,-2.9zM374.0,435.5l2.6,2.9l-2.6,2.9l-2.6,-2.9zM374.9,433.4l2.6,2.9l-2.6,2.9l-2.6,-2.9zM375.9,431.5l2.6,2.9l-2.6,2.9l-2.6,-2.9zM377.0,429.6l2.6,2.9l-2.6,2.9l-2.6,-2.9zM378.2,427.8l2.6,2.9l-2.6,2.9l-2.6,-2.9zM379.5,426.0l2.6,2.9l-2.6,2.9l-2.6,-2.9zM380.9,424.3l2.6,2.9l-2.6,2.9l-2.6,-2.9zM382.4,422.7l2.6,2.9l-2.6,2.9l-2.6,-2.9zM384.0,421.2l2.6,2.9l-2.6,2.9l-2.6,-2.9zM385.8,419.9l2.6,2.9l-2.6,2.9l-2.6,-2.9zM387.5,418.5l2.6,2.9l-2.6,2.9l-2.6,-2.9zM393.5,414.2l2.6,2.9l-2.6,2.9l-2.6,-2.9zM400.2,411.1l2.6,2.9l-2.6,2.9l-2.6,-2.9zM407.0,408.2l2.6,2.9l-2.6,2.9l-2.6,-2.9zM414.1,406.1l2.6,2.9l-2.6,2.9l-2.6,-2.9zM421.4,405.0l2.6,2.9l-2.6,2.9l-2.6,-2.9zM428.8,404.7l2.6,2.9l-2.6,2.9l-2.6,-2.9zM436.2,404.8l2.6,2.9l-2.6,2.9l-2.6,-2.9zM443.6,405.3l2.6,2.9l-2.6,2.9l-2.6,-2.9zM450.9,406.7l2.6,2.9l-2.6,2.9l-2.6,-2.9zM457.9,408.9l2.6,2.9l-2.6,2.9l-2.6,-2.9zM464.9,411.3l2.6,2.9l-2.6,2.9l-2.6,-2.9zM471.8,414.0l2.6,2.9l-2.6,2.9l-2.6,-2.9zM473.7,415.0l2.6,2.9l-2.6,2.9l-2.6,-2.9zM475.7,416.0l2.6,2.9l-2.6,2.9l-2.6,-2.9zM477.6,417.1l2.6,2.9l-2.6,2.9l-2.6,-2.9zM479.5,418.2l2.6,2.9l-2.6,2.9l-2.6,-2.9zM481.4,419.4l2.6,2.9l-2.6,2.9l-2.6,-2.9zM483.1,420.7l2.6,2.9l-2.6,2.9l-2.6,-2.9zM484.9,422.0l2.6,2.9l-2.6,2.9l-2.6,-2.9zM486.8,423.2l2.6,2.9l-2.6,2.9l-2.6,-2.9zM488.7,424.2l2.6,2.9l-2.6,2.9l-2.6,-2.9zM490.7,425.2l2.6,2.9l-2.6,2.9l-2.6,-2.9zM492.7,426.1l2.6,2.9l-2.6,2.9l-2.6,-2.9zM494.7,427.1l2.6,2.9l-2.6,2.9l-2.6,-2.9zM496.6,428.0l2.6,2.9l-2.6,2.9l-2.6,-2.9zM498.6,429.0l2.6,2.9l-2.6,2.9l-2.6,-2.9zM500.7,429.8l2.6,2.9l-2.6,2.9l-2.6,-2.9zM502.8,430.4l2.6,2.9l-2.6,2.9l-2.6,-2.9zM505.0,430.7l2.6,2.9l-2.6,2.9l-2.6,-2.9zM507.2,430.7l2.6,2.9l-2.6,2.9l-2.6,-2.9zM509.3,430.4l2.6,2.9l-2.6,2.9l-2.6,-2.9zM511.5,430.2l2.6,2.9l-2.6,2.9l-2.6,-2.9zM513.7,429.9l2.6,2.9l-2.6,2.9l-2.6,-2.9zM515.9,429.7l2.6,2.9l-2.6,2.9l-2.6,-2.9zM518.1,429.5l2.6,2.9l-2.6,2.9l-2.6,-2.9zM520.3,429.6l2.6,2.9l-2.6,2.9l-2.6,-2.9zM522.5,429.8l2.6,2.9l-2.6,2.9l-2.6,-2.9zM524.7,430.1l2.6,2.9l-2.6,2.9l-2.6,-2.9zM526.8,430.4l2.6,2.9l-2.6,2.9l-2.6,-2.9zM529.0,430.7l2.6,2.9l-2.6,2.9l-2.6,-2.9zM531.2,431.1l2.6,2.9l-2.6,2.9l-2.6,-2.9zM533.4,431.4l2.6,2.9l-2.6,2.9l-2.6,-2.9zM535.5,431.8l2.6,2.9l-2.6,2.9l-2.6,-2.9zM537.7,432.1l2.6,2.9l-2.6,2.9l-2.6,-2.9zM539.9,432.4l2.6,2.9l-2.6,2.9l-2.6,-2.9zM542.1,432.8l2.6,2.9l-2.6,2.9l-2.6,-2.9zM544.2,433.2l2.6,2.9l-2.6,2.9l-2.6,-2.9zM546.4,433.1l2.6,2.9l-2.6,2.9l-2.6,-2.9zM548.4,432.1l2.6,2.9l-2.6,2.9l-2.6,-2.9zM550.3,431.1l2.6,2.9l-2.6,2.9l-2.6,-2.9zM552.2,430.0l2.6,2.9l-2.6,2.9l-2.6,-2.9zM554.1,428.9l2.6,2.9l-2.6,2.9l-2.6,-2.9zM556.0,427.7l2.6,2.9l-2.6,2.9l-2.6,-2.9zM557.9,426.6l2.6,2.9l-2.6,2.9l-2.6,-2.9zM559.8,425.5l2.6,2.9l-2.6,2.9l-2.6,-2.9zM561.7,424.5l2.6,2.9l-2.6,2.9l-2.6,-2.9zM563.7,423.6l2.6,2.9l-2.6,2.9l-2.6,-2.9zM565.8,422.7l2.6,2.9l-2.6,2.9l-2.6,-2.9zM567.0,422.1l2.6,2.9l-2.6,2.9l-2.6,-2.9z" fill="#0000ff"/>
<path d="M377.0,442.6 C377.3,441.8 378.2,439.1 379.0,437.6 C379.8,436.1 380.6,434.9 381.6,433.6 C382.6,432.3 383.7,430.8 384.9,429.6 C386.1,428.4 387.6,427.4 388.9,426.3 C390.2,425.2 391.4,424.1 392.9,423.3 C394.3,422.5 396.0,421.9 397.6,421.3 C399.2,420.7 400.9,420.0 402.5,419.5 C404.1,419.0 405.8,418.5 407.5,418.1 C409.2,417.8 411.1,417.5 412.9,417.4 C414.7,417.3 416.5,417.4 418.3,417.4 C420.1,417.4 422.0,417.5 423.7,417.6 C425.4,417.8 427.0,418.0 428.6,418.3 C430.2,418.6 431.7,419.1 433.2,419.5 C434.7,419.9 436.4,420.3 437.8,420.8 C439.2,421.3 440.4,421.8 441.9,422.4 C443.4,423.0 444.7,423.6 446.6,424.6 C448.5,425.6 451.1,427.3 453.3,428.6 C455.5,429.9 457.7,431.3 459.9,432.3 C462.1,433.3 464.6,434.1 466.6,434.6 C468.6,435.1 470.1,435.4 471.9,435.4 C473.7,435.4 475.2,435.1 477.2,434.8 C479.2,434.6 481.6,433.9 483.8,433.9 C486.0,433.9 488.3,434.3 490.5,434.6 C492.7,434.9 494.9,435.5 497.1,435.9 C499.3,436.3 502.0,437.1 503.8,437.2 C505.6,437.3 506.5,437.5 507.8,436.7 C509.1,435.9 510.4,433.9 511.8,432.5 C513.2,431.1 515.3,429.2 516.0,428.5" fill="none" stroke="#ff0000" stroke-width="1.6" stroke-linejoin="round" stroke-linecap="round"/>
<path d="M375.1,440.7h3.9v3.9h-3.9zM375.7,438.8h3.9v3.9h-3.9zM376.5,436.9h3.9v3.9h-3.9zM377.3,435.1h3.9v3.9h-3.9zM378.4,433.4h3.9v3.9h-3.9zM379.6,431.8h3.9v3.9h-3.9zM380.8,430.2h3.9v3.9h-3.9zM382.0,428.6h3.9v3.9h-3.9zM383.4,427.2h3.9v3.9h-3.9zM384.9,425.9h3.9v3.9h-3.9zM386.5,424.7h3.9v3.9h-3.9zM388.1,423.4h3.9v3.9h-3.9zM389.7,422.2h3.9v3.9h-3.9zM391.3,421.1h3.9v3.9h-3.9zM396.3,419.1h3.9v3.9h-3.9zM401.4,417.3h3.9v3.9h-3.9zM406.7,415.9h3.9v3.9h-3.9zM412.0,415.4h3.9v3.9h-3.9zM417.4,415.5h3.9v3.9h-3.9zM422.8,415.8h3.9v3.9h-3.9zM428.1,416.7h3.9v3.9h-3.9zM433.3,418.1h3.9v3.9h-3.9zM438.5,419.8h3.9v3.9h-3.9zM440.3,420.6h3.9v3.9h-3.9zM442.1,421.4h3.9v3.9h-3.9zM443.9,422.3h3.9v3.9h-3.9zM445.7,423.2h3.9v3.9h-3.9zM447.4,424.3h3.9v3.9h-3.9zM449.1,425.3h3.9v3.9h-3.9zM450.8,426.3h3.9v3.9h-3.9zM452.5,427.4h3.9v3.9h-3.9zM454.3,428.4h3.9v3.9h-3.9zM456.0,429.4h3.9v3.9h-3.9zM457.8,430.3h3.9v3.9h-3.9zM459.6,431.0h3.9v3.9h-3.9zM461.5,431.7h3.9v3.9h-3.9zM463.4,432.3h3.9v3.9h-3.9zM465.3,432.8h3.9v3.9h-3.9zM467.3,433.2h3.9v3.9h-3.9zM469.3,433.4h3.9v3.9h-3.9zM471.3,433.4h3.9v3.9h-3.9zM473.3,433.1h3.9v3.9h-3.9zM475.3,432.8h3.9v3.9h-3.9zM477.2,432.5h3.9v3.9h-3.9zM479.2,432.2h3.9v3.9h-3.9zM481.2,432.0h3.9v3.9h-3.9zM483.2,432.0h3.9v3.9h-3.9zM485.2,432.2h3.9v3.9h-3.9zM487.2,432.4h3.9v3.9h-3.9zM489.1,432.7h3.9v3.9h-3.9zM491.1,433.1h3.9v3.9h-3.9zM493.1,433.5h3.9v3.9h-3.9zM495.0,433.9h3.9v3.9h-3.9zM497.0,434.3h3.9v3.9h-3.9zM498.9,434.8h3.9v3.9h-3.9zM500.9,435.1h3.9v3.9h-3.9zM502.9,435.3h3.9v3.9h-3.9zM504.9,435.2h3.9v3.9h-3.9zM506.6,434.2h3.9v3.9h-3.9zM508.0,432.7h3.9v3.9h-3.9zM509.2,431.2h3.9v3.9h-3.9zM510.6,429.8h3.9v3.9h-3.9zM512.1,428.4h3.9v3.9h-3.9zM513.5,427.0h3.9v3.9h-3.9z" fill="#ff0000"/>
<line x1="453.8" y1="257" x2="471.9" y2="257" stroke="#ff0000" stroke-width="1.8"/>
<rect x="460.9" y="255.1" width="3.8" height="3.8" fill="#ff0000"/>
<line x1="453.8" y1="270.8" x2="471.9" y2="270.8" stroke="#0000ff" stroke-width="1.8"/>
<path d="M462.8,268.2 l2.4,2.6 l-2.4,2.6 l-2.4,-2.6z" fill="#0000ff"/>
<text x="475.8" y="261" font-size="9.2">EG/Co(OH)<tspan font-size="6.5" dy="2.5">2</tspan><tspan dy="-2.5"> interlayer/PP</tspan></text>
<text x="475.8" y="273.7" font-size="9.2">PP</text>
<path d="M358.2,319.4 H380.3 M380.3,319.4 L383.6,322.5 L389.2,316.3 L394.7,322.5 L400.3,316.3 L403.6,319.4 M403.6,319.4 H442 M448,319.4 H534 M544.8,319.4 H574.8 M424.3,319.4 V339.5 H432.8 M432.8,339.5 L436.0,342.6 L441.6,336.4 L447.2,342.6 L452.8,336.4 L456.0,339.5 M456,339.5 H465.5 V319.4 M477.2,319.4 V339.5 H486.2 M486.2,339.5 L489.4,342.6 L494.8,336.4 L500.3,342.6 L505.7,336.4 L508.9,339.5 M508.9,339.5 H518 V319.4" stroke="#111" stroke-width="1.45" fill="none" stroke-linejoin="miter"/>
<path d="M439.0,316.2 L442.0,319.4 L439.0,322.59999999999997 M445.2,316.2 L448.2,319.4 L445.2,322.59999999999997 M491.3,316.2 L494.3,319.4 L491.3,322.59999999999997 M497.5,316.2 L500.5,319.4 L497.5,322.59999999999997 M534,316.2 L536.8,322.79999999999995 L539.6,318.79999999999995 L541.2,322.79999999999995 L544,316.2" stroke="#111" stroke-width="1.3" fill="none" stroke-linejoin="miter"/>
<ellipse cx="424.3" cy="319.4" rx="2.6" ry="3" fill="#000"/>
<ellipse cx="477.2" cy="319.4" rx="2.6" ry="3" fill="#000"/>
<text x="387.6" y="313.3" font-size="7.6" textLength="8.5" lengthAdjust="spacingAndGlyphs" font-family="Liberation Sans, sans-serif" font-weight="bold" fill="#3a3a3a">Rs</text>
<text x="436.8" y="313.3" font-size="7.6" textLength="15.2" lengthAdjust="spacingAndGlyphs" font-family="Liberation Sans, sans-serif" font-weight="bold" fill="#3a3a3a">CPE1</text>
<text x="442.1" y="333.9" font-size="7.6" textLength="6" lengthAdjust="spacingAndGlyphs" font-family="Liberation Sans, sans-serif" font-weight="bold" fill="#3a3a3a">Rf</text>
<text x="489.7" y="313.3" font-size="7.6" textLength="16.3" lengthAdjust="spacingAndGlyphs" font-family="Liberation Sans, sans-serif" font-weight="bold" fill="#3a3a3a">CPE2</text>
<text x="492.9" y="333.9" font-size="7.6" textLength="10.5" lengthAdjust="spacingAndGlyphs" font-family="Liberation Sans, sans-serif" font-weight="bold" fill="#3a3a3a">Rct</text>
<text x="534" y="313.3" font-size="7.6" textLength="9" lengthAdjust="spacingAndGlyphs" font-family="Liberation Sans, sans-serif" font-weight="bold" fill="#3a3a3a">W1</text>
<text x="543.6" y="324" font-size="5.5" font-family="Liberation Sans, sans-serif" font-weight="bold" fill="#3a3a3a">s</text>
<rect x="46.6" y="497.5" width="242.00000000000003" height="202.39999999999998" fill="none" stroke="#000" stroke-width="1.4"/>
<path d="M46.6,699.9 v-4 M86.9,699.9 v-4 M127.3,699.9 v-4 M167.6,699.9 v-4 M207.9,699.9 v-4 M248.3,699.9 v-4 M288.6,699.9 v-4 M66.8,699.9 v-2 M107.1,699.9 v-2 M147.4,699.9 v-2 M187.8,699.9 v-2 M228.1,699.9 v-2 M268.4,699.9 v-2" stroke="#000" stroke-width="1.3" fill="none"/>
<path d="M46.6,699.9 h4 M46.6,668.7 h4 M46.6,637.6 h4 M46.6,606.4 h4 M46.6,575.3 h4 M46.6,544.1 h4 M46.6,512.9 h4 M46.6,684.3 h2 M46.6,653.2 h2 M46.6,622.0 h2 M46.6,590.8 h2 M46.6,559.7 h2 M46.6,528.5 h2 M46.6,497.4 h2" stroke="#000" stroke-width="1.3" fill="none"/>
<text x="46.6" y="714" font-size="11.7" text-anchor="middle">0</text>
<text x="86.9" y="714" font-size="11.7" text-anchor="middle">200</text>
<text x="127.3" y="714" font-size="11.7" text-anchor="middle">400</text>
<text x="167.6" y="714" font-size="11.7" text-anchor="middle">600</text>
<text x="207.9" y="714" font-size="11.7" text-anchor="middle">800</text>
<text x="248.3" y="714" font-size="11.7" text-anchor="middle">1000</text>
<text x="288.6" y="714" font-size="11.7" text-anchor="middle">1200</text>
<text x="42" y="704.1" font-size="11.7" text-anchor="end">1.6</text>
<text x="42" y="672.9" font-size="11.7" text-anchor="end">1.8</text>
<text x="42" y="641.8" font-size="11.7" text-anchor="end">2.0</text>
<text x="42" y="610.6" font-size="11.7" text-anchor="end">2.2</text>
<text x="42" y="579.5" font-size="11.7" text-anchor="end">2.4</text>
<text x="42" y="548.3" font-size="11.7" text-anchor="end">2.6</text>
<text x="42" y="517.1" font-size="11.7" text-anchor="end">2.8</text>
<text x="10.3" y="506" font-size="19.5" text-anchor="middle">e</text>
<text x="167.8" y="735.6" font-size="12.8" text-anchor="middle">Capicity (mAh/g)</text>
<text x="12" y="592.4" font-size="13.2" text-anchor="middle" transform="rotate(-90 12 592.4)">Voltage (V vs. Li<tspan font-size="8.5" dy="-4.7">+</tspan><tspan dy="4.7">/Li)</tspan></text>
<path d="M47.3,665.0 C47.3,659.2 47.4,639.8 47.5,630.0 C47.6,620.2 47.8,611.0 48.0,606.0 C48.2,601.0 48.2,601.4 49.0,600.0 C49.8,598.6 51.0,598.1 53.0,597.9 C55.0,597.7 58.4,598.2 61.0,598.9 C63.6,599.6 65.9,601.6 68.9,602.3 C71.9,603.0 74.6,602.8 78.9,602.9 C83.2,603.0 87.2,603.4 94.8,602.9 C102.4,602.4 113.8,601.0 124.7,599.8 C135.6,598.6 150.8,597.1 160.0,595.7 C169.2,594.4 173.2,593.2 179.9,591.7 C186.6,590.2 193.2,588.0 199.9,586.7 C206.6,585.4 213.2,584.5 219.8,583.7 C226.4,582.9 234.9,582.4 239.7,581.7 C244.5,581.0 246.5,580.7 248.7,579.7 C250.9,578.7 251.7,579.0 252.7,575.7 C253.7,572.4 254.0,565.8 254.7,559.8 C255.4,553.8 256.1,545.9 256.7,539.9 C257.3,533.9 257.6,528.4 258.1,523.9 C258.6,519.4 259.4,514.8 259.7,513.0" fill="none" stroke="#ff0000" stroke-width="2.1" stroke-linejoin="round" stroke-linecap="round"/>
<path d="M47.5,534.6 C47.5,538.8 47.6,552.8 47.7,560.0 C47.8,567.2 47.8,574.5 48.0,578.0 C48.2,581.5 47.5,579.9 49.0,581.0 C50.5,582.1 53.5,583.5 57.0,584.4 C60.5,585.3 66.3,585.7 70.0,586.3 C73.7,586.9 76.7,587.7 78.9,588.2 C81.1,588.8 81.7,588.8 83.0,589.6 C84.3,590.4 85.4,591.5 86.6,593.0 C87.8,594.5 88.8,596.6 89.9,598.6 C91.0,600.6 92.0,602.9 93.2,604.9 C94.4,606.9 96.0,608.8 97.2,610.5 C98.4,612.2 99.4,613.5 100.5,615.0 C101.6,616.5 103.0,618.2 104.0,619.2 C105.0,620.2 105.8,620.8 106.5,621.3 C107.2,621.8 107.1,621.8 108.5,621.9 C109.9,622.0 110.6,621.8 115.0,621.6 C119.4,621.4 127.2,621.0 134.7,620.6 C142.2,620.2 150.8,619.6 160.0,619.5 C169.2,619.4 181.6,619.6 189.9,619.9 C198.2,620.2 204.8,620.9 209.8,621.5 C214.8,622.1 217.1,622.6 219.8,623.5 C222.5,624.4 224.1,625.2 225.8,626.9 C227.5,628.6 228.5,631.1 229.8,633.9 C231.1,636.7 232.2,640.6 233.7,643.9 C235.2,647.2 236.7,650.8 238.7,653.8 C240.7,656.8 243.2,659.1 245.7,661.8 C248.2,664.5 251.4,667.3 253.7,669.8 C256.0,672.3 257.7,674.4 259.7,676.7 C261.7,679.0 264.6,682.5 265.6,683.7" fill="none" stroke="#ff0000" stroke-width="2.1" stroke-linejoin="round" stroke-linecap="round"/>
<path d="M47.3,650.0 C47.3,645.8 47.4,631.7 47.5,625.0 C47.6,618.3 47.8,613.2 48.0,610.0 C48.2,606.8 47.5,606.5 49.0,605.9 C50.5,605.3 52.7,606.4 57.0,606.3 C61.3,606.2 68.6,605.9 74.9,605.5 C81.2,605.1 86.5,604.9 94.8,603.9 C103.1,602.9 113.8,601.5 124.7,599.5 C135.6,597.5 150.8,593.8 160.0,591.7 C169.2,589.6 173.2,588.2 179.9,586.7 C186.6,585.2 193.9,583.7 199.9,582.7 C205.9,581.7 211.5,581.5 215.8,580.7 C220.1,579.9 223.5,579.2 225.8,577.7 C228.1,576.2 228.7,576.4 229.8,571.8 C230.9,567.1 231.5,556.8 232.2,549.8 C232.8,542.8 233.2,536.0 233.7,529.9 C234.2,523.8 234.9,515.8 235.1,513.0" fill="none" stroke="#0000ff" stroke-width="2.1" stroke-linejoin="round" stroke-linecap="round"/>
<path d="M47.5,536.0 C47.5,540.0 47.6,552.8 47.7,560.0 C47.8,567.2 47.8,575.3 48.0,579.0 C48.2,582.7 46.2,580.7 49.0,582.0 C51.8,583.3 61.1,585.9 64.9,587.0 C68.7,588.1 69.5,587.9 72.0,588.6 C74.5,589.3 78.0,590.3 80.0,591.3 C82.0,592.3 82.8,593.1 84.0,594.6 C85.2,596.1 86.2,598.2 87.3,600.0 C88.4,601.8 89.5,603.7 90.6,605.5 C91.7,607.3 92.8,609.2 94.0,611.0 C95.2,612.8 96.4,614.8 97.5,616.5 C98.6,618.2 99.8,620.0 100.8,621.2 C101.8,622.4 102.6,623.2 103.5,623.8 C104.4,624.3 104.1,624.4 106.0,624.5 C107.9,624.6 110.0,624.4 114.8,624.2 C119.6,624.1 127.2,623.6 134.7,623.6 C142.2,623.6 152.5,624.1 160.0,624.2 C167.5,624.3 174.2,624.1 179.9,624.3 C185.6,624.5 190.4,624.7 193.9,625.5 C197.4,626.3 198.9,627.2 200.9,628.9 C202.9,630.6 204.2,632.9 205.8,635.9 C207.5,638.9 209.1,643.5 210.8,646.8 C212.5,650.1 213.6,652.8 215.8,655.8 C218.0,658.8 221.5,662.0 223.8,664.8 C226.1,667.6 227.7,669.6 229.8,672.8 C232.0,675.9 235.5,681.9 236.7,683.7" fill="none" stroke="#0000ff" stroke-width="2.1" stroke-linejoin="round" stroke-linecap="round"/>
<path d="M47.5,630.0 C47.5,627.0 47.5,616.5 47.8,612.0 C48.0,607.5 46.1,604.2 49.0,602.9 C51.9,601.5 58.9,603.9 64.9,603.9 C70.9,603.9 78.2,603.7 84.9,602.9 C91.6,602.1 96.5,600.6 104.8,598.9 C113.1,597.2 125.5,594.9 134.7,592.9 C143.9,590.9 152.5,588.4 160.0,586.7 C167.5,585.0 173.2,584.0 179.9,582.7 C186.6,581.4 194.8,579.9 199.9,578.7 C205.1,577.5 208.2,577.2 210.8,575.7 C213.5,574.2 214.5,574.1 215.8,569.8 C217.1,565.5 218.0,556.4 218.8,549.8 C219.6,543.1 220.0,536.0 220.4,529.9 C220.8,523.8 221.2,515.8 221.4,513.0" fill="none" stroke="#00f000" stroke-width="2.1" stroke-linejoin="round" stroke-linecap="round"/>
<path d="M47.5,552.0 C47.5,555.0 47.6,565.0 47.7,570.0 C47.8,575.0 47.8,579.7 48.0,582.0 C48.2,584.3 46.2,582.9 49.0,584.0 C51.8,585.1 61.4,587.9 64.9,588.9 C68.4,589.9 67.8,589.5 70.0,590.0 C72.2,590.5 76.0,591.1 78.0,592.0 C80.0,592.9 80.8,594.1 82.0,595.6 C83.2,597.1 84.2,599.2 85.3,601.0 C86.4,602.8 87.5,604.7 88.6,606.6 C89.7,608.5 90.9,610.5 92.0,612.3 C93.1,614.1 94.2,615.9 95.3,617.6 C96.4,619.3 97.6,621.3 98.6,622.6 C99.6,623.9 100.4,624.7 101.3,625.3 C102.2,625.9 100.1,626.3 104.0,626.4 C107.9,626.5 116.5,626.1 124.7,626.0 C132.9,625.9 146.2,625.5 153.2,625.5 C160.1,625.5 163.3,626.1 166.4,626.3 C169.5,626.5 169.2,626.5 172.0,626.9 C174.8,627.3 180.2,627.9 183.4,628.9 C186.6,629.9 188.8,631.1 190.9,632.9 C193.0,634.7 194.2,636.8 195.9,639.9 C197.6,643.0 199.1,648.1 200.9,651.8 C202.7,655.4 204.5,658.5 206.8,661.8 C209.2,665.1 212.3,668.1 215.0,671.8 C217.7,675.4 221.8,681.7 223.2,683.7" fill="none" stroke="#00f000" stroke-width="2.1" stroke-linejoin="round" stroke-linecap="round"/>
<path d="M47.5,620.0 C47.5,618.0 47.5,611.2 47.8,608.0 C48.0,604.8 46.1,601.9 49.0,600.9 C51.9,599.9 58.9,601.9 64.9,601.9 C70.9,601.9 78.2,601.9 84.9,600.9 C91.6,599.9 96.5,597.9 104.8,595.9 C113.1,593.9 125.5,591.3 134.7,588.9 C143.9,586.5 153.1,583.4 160.0,581.7 C166.9,580.0 170.9,579.7 175.9,578.7 C180.9,577.7 186.2,576.7 189.9,575.7 C193.6,574.7 195.9,574.8 197.9,572.8 C199.9,570.8 200.9,568.6 201.9,563.8 C202.9,559.0 203.3,550.5 203.9,543.9 C204.5,537.2 205.0,529.0 205.4,523.9 C205.8,518.8 206.1,514.8 206.2,513.0" fill="none" stroke="#ff00ff" stroke-width="2.1" stroke-linejoin="round" stroke-linecap="round"/>
<path d="M47.5,569.0 C47.5,570.8 47.5,577.2 47.8,580.0 C48.0,582.8 46.1,584.2 49.0,586.0 C51.9,587.8 61.4,589.9 64.9,590.9 C68.4,591.9 68.2,591.5 70.0,592.0 C71.8,592.5 74.3,593.1 76.0,594.0 C77.7,594.9 78.8,595.9 80.0,597.3 C81.2,598.7 82.2,600.7 83.3,602.6 C84.4,604.5 85.5,606.7 86.6,608.6 C87.7,610.5 88.9,612.2 90.0,614.0 C91.1,615.8 92.1,617.6 93.2,619.3 C94.3,621.0 95.6,622.6 96.6,624.0 C97.6,625.4 98.4,626.8 99.3,627.8 C100.2,628.8 99.7,629.5 102.0,629.8 C104.3,630.1 107.0,630.0 113.3,629.8 C119.6,629.6 132.2,628.7 139.9,628.8 C147.7,628.9 155.6,630.2 159.8,630.6 C164.0,631.0 163.3,631.0 165.0,631.3 C166.7,631.6 168.3,631.9 170.0,632.3 C171.7,632.7 173.6,633.1 175.0,633.8 C176.4,634.5 177.4,635.3 178.5,636.3 C179.6,637.2 180.7,638.3 181.6,639.5 C182.5,640.7 183.2,642.1 184.0,643.5 C184.8,644.9 185.5,646.2 186.3,648.0 C187.1,649.8 187.9,652.2 189.0,654.5 C190.1,656.8 191.4,659.3 192.6,661.5 C193.8,663.7 194.6,665.2 196.0,667.5 C197.4,669.8 199.2,672.3 201.0,675.0 C202.8,677.7 205.8,682.2 206.8,683.7" fill="none" stroke="#ff00ff" stroke-width="2.1" stroke-linejoin="round" stroke-linecap="round"/>
<path d="M47.5,615.0 C47.5,613.3 47.5,607.7 47.8,605.0 C48.0,602.3 46.1,599.9 49.0,598.9 C51.9,597.9 58.9,599.1 64.9,598.9 C70.9,598.7 78.2,598.9 84.9,597.9 C91.6,596.9 96.5,595.0 104.8,592.9 C113.1,590.8 125.5,587.7 134.7,585.0 C143.9,582.3 153.8,578.4 160.0,576.7 C166.2,575.0 168.3,575.4 172.0,574.7 C175.7,574.1 179.4,573.8 181.9,572.8 C184.4,571.8 185.6,571.0 186.9,568.8 C188.2,566.6 189.1,564.6 189.9,559.8 C190.7,555.0 191.3,545.9 191.9,539.9 C192.5,533.9 193.0,528.4 193.5,523.9 C194.0,519.4 194.7,514.8 194.9,513.0" fill="none" stroke="#008000" stroke-width="2.1" stroke-linejoin="round" stroke-linecap="round"/>
<path d="M47.5,573.0 C47.5,574.7 47.5,580.5 47.8,583.0 C48.0,585.5 46.1,586.4 49.0,588.0 C51.9,589.6 61.4,591.8 64.9,592.9 C68.4,594.0 68.5,594.0 70.0,594.6 C71.5,595.2 72.8,595.7 74.0,596.6 C75.2,597.5 76.2,598.5 77.3,600.0 C78.4,601.5 79.5,603.5 80.6,605.3 C81.7,607.1 82.8,609.1 83.9,611.0 C85.0,612.9 86.2,614.8 87.3,616.6 C88.4,618.4 89.5,619.9 90.6,621.6 C91.7,623.3 92.9,625.4 94.0,627.0 C95.1,628.6 96.2,630.2 97.3,631.3 C98.3,632.4 98.2,633.1 100.3,633.4 C102.4,633.7 105.6,633.4 110.0,633.3 C114.4,633.2 119.4,632.8 126.6,632.9 C133.8,633.0 147.6,633.5 153.2,633.9 C158.8,634.3 157.9,634.8 160.0,635.5 C162.1,636.2 164.0,636.7 166.0,637.9 C168.0,639.1 170.0,640.2 172.0,642.9 C174.0,645.5 175.9,649.8 177.9,653.8 C179.9,657.8 181.9,663.1 183.9,666.8 C185.9,670.4 188.0,672.9 189.9,675.7 C191.8,678.5 194.6,682.4 195.5,683.7" fill="none" stroke="#008000" stroke-width="2.1" stroke-linejoin="round" stroke-linecap="round"/>
<path d="M47.5,608.0 C47.5,606.7 47.5,602.0 47.8,600.0 C48.0,598.0 46.1,596.6 49.0,595.9 C51.9,595.2 60.6,596.2 64.9,595.9 C69.2,595.6 71.6,594.9 74.9,593.9 C78.2,592.9 79.9,591.2 84.9,589.9 C89.9,588.6 96.5,587.8 104.8,586.0 C113.1,584.2 125.5,581.5 134.7,579.0 C143.9,576.5 154.4,572.5 160.0,570.8 C165.6,569.1 165.8,570.0 168.0,568.8 C170.2,567.6 171.7,566.0 173.0,563.8 C174.3,561.6 175.0,559.8 175.9,555.8 C176.8,551.8 177.6,544.9 178.3,539.9 C179.0,534.9 179.4,530.4 179.9,525.9 C180.4,521.4 181.2,515.1 181.5,513.0" fill="none" stroke="#800080" stroke-width="2.1" stroke-linejoin="round" stroke-linecap="round"/>
<path d="M47.5,580.0 C47.6,581.7 47.8,587.4 48.0,590.0 C48.2,592.6 47.5,594.7 49.0,595.5 C50.5,596.3 54.4,594.8 57.0,594.9 C59.6,595.0 62.7,595.6 64.9,596.3 C67.1,597.0 68.5,598.3 70.0,599.3 C71.5,600.2 72.8,600.8 74.0,602.0 C75.2,603.2 76.2,604.9 77.3,606.6 C78.4,608.3 79.5,610.2 80.6,612.0 C81.7,613.8 82.8,615.8 83.9,617.6 C85.0,619.4 86.2,620.9 87.3,622.6 C88.4,624.3 89.5,626.2 90.6,628.0 C91.7,629.8 92.9,631.9 94.0,633.5 C95.1,635.1 96.2,636.8 97.3,637.8 C98.3,638.8 98.2,639.5 100.3,639.8 C102.4,640.1 105.6,639.7 110.0,639.6 C114.4,639.5 121.6,639.2 126.6,639.2 C131.6,639.2 135.5,639.4 139.9,639.9 C144.3,640.4 149.8,641.5 153.2,642.5 C156.5,643.5 158.0,644.2 160.0,645.8 C162.0,647.3 163.3,649.1 165.0,651.8 C166.7,654.5 168.2,658.1 170.0,661.8 C171.8,665.4 173.8,670.1 175.9,673.7 C178.1,677.4 181.7,682.0 182.9,683.7" fill="none" stroke="#800080" stroke-width="2.1" stroke-linejoin="round" stroke-linecap="round"/>
<text x="182.6" y="694.6" font-size="10" text-anchor="middle">5</text>
<text x="196.3" y="694.6" font-size="10" text-anchor="middle">3</text>
<text x="207.9" y="694.6" font-size="10" text-anchor="middle">1</text>
<text x="224.1" y="694.6" font-size="10" text-anchor="middle">2</text>
<text x="238.6" y="694.6" font-size="10" text-anchor="middle">0.5</text>
<text x="257.3" y="694.6" font-size="10" text-anchor="start">0.2 C</text>
<rect x="348.6" y="498.6" width="246.60000000000002" height="202.89999999999998" fill="none" stroke="#000" stroke-width="1.4"/>
<path d="M348.6,701.5 v-4 M383.8,701.5 v-4 M419.1,701.5 v-4 M454.3,701.5 v-4 M489.5,701.5 v-4 M524.7,701.5 v-4 M560.0,701.5 v-4 M595.2,701.5 v-4 M366.2,701.5 v-2 M401.4,701.5 v-2 M436.7,701.5 v-2 M471.9,701.5 v-2 M507.1,701.5 v-2 M542.4,701.5 v-2 M577.6,701.5 v-2" stroke="#000" stroke-width="1.3" fill="none"/>
<path d="M348.6,701.5 h4 M348.6,650.8 h4 M348.6,600.0 h4 M348.6,549.3 h4 M348.6,498.6 h4 M348.6,676.1 h2 M348.6,625.4 h2 M348.6,574.7 h2 M348.6,524.0 h2" stroke="#000" stroke-width="1.3" fill="none"/>
<text x="348.6" y="716" font-size="11.7" text-anchor="middle">0</text>
<text x="383.8" y="716" font-size="11.7" text-anchor="middle">5</text>
<text x="419.1" y="716" font-size="11.7" text-anchor="middle">10</text>
<text x="454.3" y="716" font-size="11.7" text-anchor="middle">15</text>
<text x="489.5" y="716" font-size="11.7" text-anchor="middle">20</text>
<text x="524.7" y="716" font-size="11.7" text-anchor="middle">25</text>
<text x="560.0" y="716" font-size="11.7" text-anchor="middle">30</text>
<text x="595.2" y="716" font-size="11.7" text-anchor="middle">35</text>
<text x="344" y="705.7" font-size="11.7" text-anchor="end">0</text>
<text x="344" y="655.0" font-size="11.7" text-anchor="end">400</text>
<text x="344" y="604.2" font-size="11.7" text-anchor="end">800</text>
<text x="344" y="553.5" font-size="11.7" text-anchor="end">1200</text>
<text x="344" y="502.8" font-size="11.7" text-anchor="end">1600</text>
<text x="312.3" y="508.4" font-size="18" text-anchor="middle">f</text>
<text x="464.7" y="734.4" font-size="12.9" text-anchor="middle">Cycle number</text>
<text x="314" y="599.6" font-size="13.3" text-anchor="middle" transform="rotate(-90 314 599.6)">Capacity (mAh/g)</text>
<path d="M355.6,535.2 L362.7,562.8 L369.7,568.2 L376.8,569.9 L383.8,573.0 L390.9,581.8 L397.9,582.9 L405.0,582.9 L412.0,583.3 L419.1,583.3 L426.1,590.2 L433.1,592.0 L440.2,592.4 L447.2,592.4 L454.3,592.0 L461.3,600.7 L468.4,600.7 L475.4,601.9 L482.5,601.4 L489.5,601.9 L496.6,607.7 L503.6,608.4 L510.7,608.4 L517.7,608.4 L524.7,608.4 L531.8,615.8 L538.8,616.5 L545.9,616.5 L552.9,616.5 L560.0,616.5 L567.0,589.1 L574.1,586.3 L581.1,587.9 L588.2,588.8 L595.2,588.4" fill="none" stroke="#ff0000" stroke-width="1.8" stroke-linejoin="round" stroke-linecap="round"/>
<path d="M355.6,589.4 L362.7,598.0 L369.7,602.8 L376.8,605.6 L383.8,607.7 L390.9,615.3 L397.9,616.4 L405.0,617.4 L412.0,618.3 L419.1,618.3 L426.1,623.9 L433.1,624.4 L440.2,624.8 L447.2,625.0 L454.3,624.8 L461.3,630.9 L468.4,630.2 L475.4,630.5 L482.5,630.9 L489.5,630.2 L496.6,635.6 L503.6,635.6 L510.7,635.6 L517.7,635.6 L524.7,636.0 L531.8,642.6 L538.8,642.6 L545.9,642.1 L552.9,641.9 L560.0,641.9 L567.0,621.2 L574.1,621.2 L581.1,621.6 L588.2,622.3 L595.2,622.8" fill="none" stroke="#0000ff" stroke-width="1.8" stroke-linejoin="round" stroke-linecap="round"/>
<path d="M353.7,533.3h3.8v3.8h-3.8zM360.8,560.9h3.8v3.8h-3.8zM367.8,566.3h3.8v3.8h-3.8zM374.9,568.0h3.8v3.8h-3.8zM381.9,571.1h3.8v3.8h-3.8zM389.0,579.9h3.8v3.8h-3.8zM396.0,581.0h3.8v3.8h-3.8zM403.1,581.0h3.8v3.8h-3.8zM410.1,581.4h3.8v3.8h-3.8zM417.2,581.4h3.8v3.8h-3.8zM424.2,588.3h3.8v3.8h-3.8zM431.2,590.1h3.8v3.8h-3.8zM438.3,590.5h3.8v3.8h-3.8zM445.3,590.5h3.8v3.8h-3.8zM452.4,590.1h3.8v3.8h-3.8zM459.4,598.8h3.8v3.8h-3.8zM466.5,598.8h3.8v3.8h-3.8zM473.5,600.0h3.8v3.8h-3.8zM480.6,599.5h3.8v3.8h-3.8zM487.6,600.0h3.8v3.8h-3.8zM494.7,605.8h3.8v3.8h-3.8zM501.7,606.5h3.8v3.8h-3.8zM508.8,606.5h3.8v3.8h-3.8zM515.8,606.5h3.8v3.8h-3.8zM522.8,606.5h3.8v3.8h-3.8zM529.9,613.9h3.8v3.8h-3.8zM536.9,614.6h3.8v3.8h-3.8zM544.0,614.6h3.8v3.8h-3.8zM551.0,614.6h3.8v3.8h-3.8zM558.1,614.6h3.8v3.8h-3.8zM565.1,587.2h3.8v3.8h-3.8zM572.2,584.4h3.8v3.8h-3.8zM579.2,586.0h3.8v3.8h-3.8zM586.3,586.9h3.8v3.8h-3.8zM593.3,586.5h3.8v3.8h-3.8z" fill="#ff0000"/>
<circle cx="355.6" cy="589.4" r="2.1" fill="#0000ff"/><circle cx="362.7" cy="598.0" r="2.1" fill="#0000ff"/><circle cx="369.7" cy="602.8" r="2.1" fill="#0000ff"/><circle cx="376.8" cy="605.6" r="2.1" fill="#0000ff"/><circle cx="383.8" cy="607.7" r="2.1" fill="#0000ff"/><circle cx="390.9" cy="615.3" r="2.1" fill="#0000ff"/><circle cx="397.9" cy="616.4" r="2.1" fill="#0000ff"/><circle cx="405.0" cy="617.4" r="2.1" fill="#0000ff"/><circle cx="412.0" cy="618.3" r="2.1" fill="#0000ff"/><circle cx="419.1" cy="618.3" r="2.1" fill="#0000ff"/><circle cx="426.1" cy="623.9" r="2.1" fill="#0000ff"/><circle cx="433.1" cy="624.4" r="2.1" fill="#0000ff"/><circle cx="440.2" cy="624.8" r="2.1" fill="#0000ff"/><circle cx="447.2" cy="625.0" r="2.1" fill="#0000ff"/><circle cx="454.3" cy="624.8" r="2.1" fill="#0000ff"/><circle cx="461.3" cy="630.9" r="2.1" fill="#0000ff"/><circle cx="468.4" cy="630.2" r="2.1" fill="#0000ff"/><circle cx="475.4" cy="630.5" r="2.1" fill="#0000ff"/><circle cx="482.5" cy="630.9" r="2.1" fill="#0000ff"/><circle cx="489.5" cy="630.2" r="2.1" fill="#0000ff"/><circle cx="496.6" cy="635.6" r="2.1" fill="#0000ff"/><circle cx="503.6" cy="635.6" r="2.1" fill="#0000ff"/><circle cx="510.7" cy="635.6" r="2.1" fill="#0000ff"/><circle cx="517.7" cy="635.6" r="2.1" fill="#0000ff"/><circle cx="524.7" cy="636.0" r="2.1" fill="#0000ff"/><circle cx="531.8" cy="642.6" r="2.1" fill="#0000ff"/><circle cx="538.8" cy="642.6" r="2.1" fill="#0000ff"/><circle cx="545.9" cy="642.1" r="2.1" fill="#0000ff"/><circle cx="552.9" cy="641.9" r="2.1" fill="#0000ff"/><circle cx="560.0" cy="641.9" r="2.1" fill="#0000ff"/><circle cx="567.0" cy="621.2" r="2.1" fill="#0000ff"/><circle cx="574.1" cy="621.2" r="2.1" fill="#0000ff"/><circle cx="581.1" cy="621.6" r="2.1" fill="#0000ff"/><circle cx="588.2" cy="622.3" r="2.1" fill="#0000ff"/><circle cx="595.2" cy="622.8" r="2.1" fill="#0000ff"/>
<text x="364.9" y="560.6" font-size="9.2" text-anchor="start">0.2C</text>
<text x="394.7" y="578.3" font-size="9.2" text-anchor="start">0.5C</text>
<text x="432.5" y="586.6" font-size="9.2" text-anchor="start">1C</text>
<text x="468.8" y="596.7" font-size="9.2" text-anchor="start">2C</text>
<text x="503.7" y="604.2" font-size="9.2" text-anchor="start">3C</text>
<text x="540.9" y="611.6" font-size="9.2" text-anchor="start">5C</text>
<text x="571.6" y="582.1" font-size="9.2" text-anchor="start">0.5C</text>
<line x1="458.1" y1="506.2" x2="476.7" y2="506.2" stroke="#ff0000" stroke-width="1.8"/>
<rect x="465.5" y="504.3" width="3.8" height="3.8" fill="#ff0000"/>
<line x1="458.1" y1="520.3" x2="476.7" y2="520.3" stroke="#0000ff" stroke-width="1.8"/>
<circle cx="467.4" cy="520.3" r="2.1" fill="#0000ff"/>
<text x="481.7" y="509.6" font-size="9.4">EG/Co(OH)<tspan font-size="6.5" dy="2.5">2</tspan><tspan dy="-2.5"> interlayer/PP</tspan></text>
<text x="481.7" y="522.9" font-size="9.2">PP</text>
</svg>
</body></html>
